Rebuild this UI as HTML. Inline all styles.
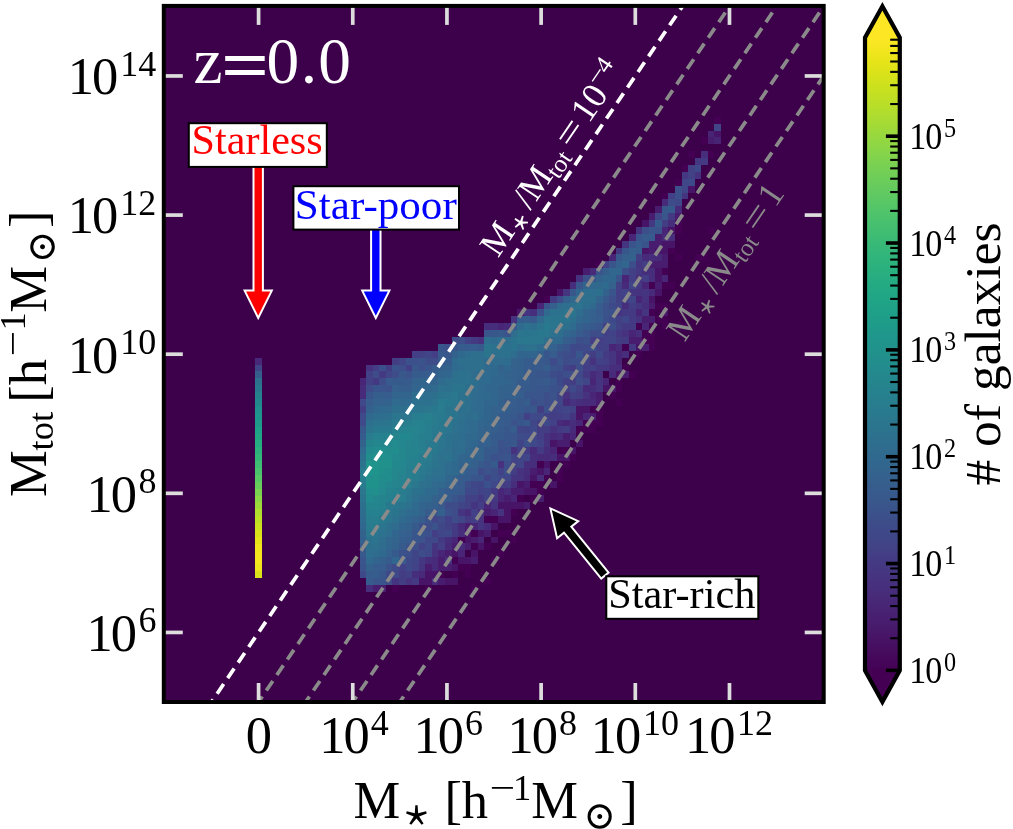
<!DOCTYPE html>
<html lang="en"><head><meta charset="utf-8"><title>Stellar mass vs total mass, z=0.0</title>
<style>html,body{margin:0;padding:0;background:#fff}svg{display:block}text{font-family:'Liberation Serif', 'DejaVu Serif', serif}</style></head><body>
<svg width="1013" height="829" viewBox="0 0 1013 829">
<defs>
<clipPath id="axclip"><rect x="163.80" y="5.90" width="659.90" height="696.10"/></clipPath>
<clipPath id="lnclip"><rect x="163.80" y="10.60" width="659.90" height="691.40"/></clipPath>
<linearGradient id="vir" x1="0" y1="1" x2="0" y2="0"><stop offset="0.000" stop-color="#440154"/><stop offset="0.025" stop-color="#460a5d"/><stop offset="0.050" stop-color="#471365"/><stop offset="0.075" stop-color="#481c6e"/><stop offset="0.100" stop-color="#482475"/><stop offset="0.125" stop-color="#472d7b"/><stop offset="0.150" stop-color="#463480"/><stop offset="0.175" stop-color="#443b84"/><stop offset="0.200" stop-color="#414487"/><stop offset="0.225" stop-color="#3e4a89"/><stop offset="0.250" stop-color="#3b528b"/><stop offset="0.275" stop-color="#38598c"/><stop offset="0.300" stop-color="#355f8d"/><stop offset="0.325" stop-color="#31668e"/><stop offset="0.350" stop-color="#2f6c8e"/><stop offset="0.375" stop-color="#2c728e"/><stop offset="0.400" stop-color="#2a788e"/><stop offset="0.425" stop-color="#277e8e"/><stop offset="0.450" stop-color="#25848e"/><stop offset="0.475" stop-color="#238a8d"/><stop offset="0.500" stop-color="#21918c"/><stop offset="0.525" stop-color="#1f968b"/><stop offset="0.550" stop-color="#1e9c89"/><stop offset="0.575" stop-color="#1fa287"/><stop offset="0.600" stop-color="#22a884"/><stop offset="0.625" stop-color="#28ae80"/><stop offset="0.650" stop-color="#2fb47c"/><stop offset="0.675" stop-color="#38b977"/><stop offset="0.700" stop-color="#44bf70"/><stop offset="0.725" stop-color="#50c46a"/><stop offset="0.750" stop-color="#5ec962"/><stop offset="0.775" stop-color="#6ccd5a"/><stop offset="0.800" stop-color="#7ad151"/><stop offset="0.825" stop-color="#8bd646"/><stop offset="0.850" stop-color="#9bd93c"/><stop offset="0.875" stop-color="#addc30"/><stop offset="0.900" stop-color="#bddf26"/><stop offset="0.925" stop-color="#cde11d"/><stop offset="0.950" stop-color="#dfe318"/><stop offset="0.975" stop-color="#efe51c"/><stop offset="1.000" stop-color="#fde725"/></linearGradient>
</defs>
<rect x="0" y="0" width="1013" height="829" fill="#ffffff"/>
<rect x="163.80" y="5.90" width="659.90" height="696.10" fill="#3d014b"/>
<g clip-path="url(#axclip)" shape-rendering="crispEdges">
<rect x="255.40" y="357.70" width="6.50" height="6.94" fill="#482878"/>
<rect x="255.40" y="364.59" width="6.50" height="6.94" fill="#404588"/>
<rect x="255.40" y="371.48" width="6.50" height="6.94" fill="#355e8d"/>
<rect x="255.40" y="378.37" width="6.50" height="6.94" fill="#2d718e"/>
<rect x="255.40" y="385.26" width="6.50" height="6.94" fill="#2a788e"/>
<rect x="255.40" y="392.15" width="6.50" height="6.94" fill="#26818e"/>
<rect x="255.40" y="399.04" width="6.50" height="6.94" fill="#23888e"/>
<rect x="255.40" y="405.93" width="6.50" height="6.94" fill="#218f8d"/>
<rect x="255.40" y="412.82" width="6.50" height="6.94" fill="#1f948c"/>
<rect x="255.40" y="419.72" width="6.50" height="6.94" fill="#1f9a8a"/>
<rect x="255.40" y="426.61" width="6.50" height="6.94" fill="#1fa088"/>
<rect x="255.40" y="433.50" width="6.50" height="6.94" fill="#21a585"/>
<rect x="255.40" y="440.39" width="6.50" height="6.94" fill="#25ac82"/>
<rect x="255.40" y="447.28" width="6.50" height="6.94" fill="#2cb17e"/>
<rect x="255.40" y="454.17" width="6.50" height="6.94" fill="#34b679"/>
<rect x="255.40" y="461.06" width="6.50" height="6.94" fill="#3fbc73"/>
<rect x="255.40" y="467.95" width="6.50" height="6.94" fill="#4ac16d"/>
<rect x="255.40" y="474.84" width="6.50" height="6.94" fill="#58c765"/>
<rect x="255.40" y="481.73" width="6.50" height="6.94" fill="#67cc5c"/>
<rect x="255.40" y="488.62" width="6.50" height="6.94" fill="#7ad151"/>
<rect x="255.40" y="495.51" width="6.50" height="6.94" fill="#8bd646"/>
<rect x="255.40" y="502.40" width="6.50" height="6.94" fill="#9dd93b"/>
<rect x="255.40" y="509.29" width="6.50" height="6.94" fill="#b0dd2f"/>
<rect x="255.40" y="516.18" width="6.50" height="6.94" fill="#bddf26"/>
<rect x="255.40" y="523.08" width="6.50" height="6.94" fill="#cae11f"/>
<rect x="255.40" y="529.97" width="6.50" height="6.94" fill="#dae319"/>
<rect x="255.40" y="536.86" width="6.50" height="6.94" fill="#e7e419"/>
<rect x="255.40" y="543.75" width="6.50" height="6.94" fill="#f1e51d"/>
<rect x="255.40" y="550.64" width="6.50" height="6.94" fill="#f4e61e"/>
<rect x="255.40" y="557.53" width="6.50" height="6.94" fill="#f6e620"/>
<rect x="255.40" y="564.42" width="6.50" height="6.94" fill="#efe51c"/>
<rect x="255.40" y="571.31" width="6.50" height="6.94" fill="#dae319"/>
<rect x="359.60" y="378.28" width="6.62" height="6.93" fill="#482576"/>
<rect x="359.60" y="385.16" width="6.62" height="6.93" fill="#472a7a"/>
<rect x="359.60" y="392.04" width="6.62" height="6.93" fill="#472a7a"/>
<rect x="359.60" y="398.92" width="6.62" height="6.93" fill="#3f4889"/>
<rect x="359.60" y="405.80" width="6.62" height="6.93" fill="#433d84"/>
<rect x="359.60" y="412.68" width="6.62" height="6.93" fill="#3e4a89"/>
<rect x="359.60" y="419.56" width="6.62" height="6.93" fill="#3e4a89"/>
<rect x="359.60" y="426.44" width="6.62" height="6.93" fill="#38588c"/>
<rect x="359.60" y="433.32" width="6.62" height="6.93" fill="#365c8d"/>
<rect x="359.60" y="440.20" width="6.62" height="6.93" fill="#33638d"/>
<rect x="359.60" y="447.08" width="6.62" height="6.93" fill="#306a8e"/>
<rect x="359.60" y="453.96" width="6.62" height="6.93" fill="#2e6f8e"/>
<rect x="359.60" y="460.84" width="6.62" height="6.93" fill="#2c738e"/>
<rect x="359.60" y="467.72" width="6.62" height="6.93" fill="#297b8e"/>
<rect x="359.60" y="474.60" width="6.62" height="6.93" fill="#277e8e"/>
<rect x="359.60" y="481.48" width="6.62" height="6.93" fill="#297b8e"/>
<rect x="359.60" y="488.36" width="6.62" height="6.93" fill="#2a778e"/>
<rect x="359.60" y="495.24" width="6.62" height="6.93" fill="#2c738e"/>
<rect x="359.60" y="502.12" width="6.62" height="6.93" fill="#2d708e"/>
<rect x="359.60" y="509.00" width="6.62" height="6.93" fill="#2e6d8e"/>
<rect x="359.60" y="515.88" width="6.62" height="6.93" fill="#2f6b8e"/>
<rect x="359.60" y="522.76" width="6.62" height="6.93" fill="#31678e"/>
<rect x="359.60" y="529.64" width="6.62" height="6.93" fill="#33638d"/>
<rect x="359.60" y="536.52" width="6.62" height="6.93" fill="#34608d"/>
<rect x="359.60" y="543.40" width="6.62" height="6.93" fill="#375b8d"/>
<rect x="359.60" y="550.28" width="6.62" height="6.93" fill="#38598c"/>
<rect x="359.60" y="557.16" width="6.62" height="6.93" fill="#39558c"/>
<rect x="359.60" y="564.04" width="6.62" height="6.93" fill="#3a538b"/>
<rect x="359.60" y="570.92" width="6.62" height="6.93" fill="#3f4889"/>
<rect x="366.17" y="364.52" width="6.62" height="6.93" fill="#46327e"/>
<rect x="366.17" y="371.40" width="6.62" height="6.93" fill="#424086"/>
<rect x="366.17" y="378.28" width="6.62" height="6.93" fill="#424186"/>
<rect x="366.17" y="385.16" width="6.62" height="6.93" fill="#3e4c8a"/>
<rect x="366.17" y="392.04" width="6.62" height="6.93" fill="#39568c"/>
<rect x="366.17" y="398.92" width="6.62" height="6.93" fill="#365d8d"/>
<rect x="366.17" y="405.80" width="6.62" height="6.93" fill="#34608d"/>
<rect x="366.17" y="412.68" width="6.62" height="6.93" fill="#31688e"/>
<rect x="366.17" y="419.56" width="6.62" height="6.93" fill="#2d708e"/>
<rect x="366.17" y="426.44" width="6.62" height="6.93" fill="#2c738e"/>
<rect x="366.17" y="433.32" width="6.62" height="6.93" fill="#297b8e"/>
<rect x="366.17" y="440.20" width="6.62" height="6.93" fill="#25838e"/>
<rect x="366.17" y="447.08" width="6.62" height="6.93" fill="#23898e"/>
<rect x="366.17" y="453.96" width="6.62" height="6.93" fill="#218e8d"/>
<rect x="366.17" y="460.84" width="6.62" height="6.93" fill="#1f958b"/>
<rect x="366.17" y="467.72" width="6.62" height="6.93" fill="#1f948c"/>
<rect x="366.17" y="474.60" width="6.62" height="6.93" fill="#21908d"/>
<rect x="366.17" y="481.48" width="6.62" height="6.93" fill="#20928c"/>
<rect x="366.17" y="488.36" width="6.62" height="6.93" fill="#228d8d"/>
<rect x="366.17" y="495.24" width="6.62" height="6.93" fill="#228b8d"/>
<rect x="366.17" y="502.12" width="6.62" height="6.93" fill="#25858e"/>
<rect x="366.17" y="509.00" width="6.62" height="6.93" fill="#26818e"/>
<rect x="366.17" y="515.88" width="6.62" height="6.93" fill="#287d8e"/>
<rect x="366.17" y="522.76" width="6.62" height="6.93" fill="#297b8e"/>
<rect x="366.17" y="529.64" width="6.62" height="6.93" fill="#2a778e"/>
<rect x="366.17" y="536.52" width="6.62" height="6.93" fill="#2c728e"/>
<rect x="366.17" y="543.40" width="6.62" height="6.93" fill="#2d708e"/>
<rect x="366.17" y="550.28" width="6.62" height="6.93" fill="#2e6e8e"/>
<rect x="366.17" y="557.16" width="6.62" height="6.93" fill="#306a8e"/>
<rect x="366.17" y="564.04" width="6.62" height="6.93" fill="#33628d"/>
<rect x="366.17" y="570.92" width="6.62" height="6.93" fill="#375b8d"/>
<rect x="366.17" y="577.80" width="6.62" height="6.93" fill="#375b8d"/>
<rect x="366.17" y="584.68" width="6.62" height="6.93" fill="#472e7c"/>
<rect x="372.74" y="364.52" width="6.62" height="6.93" fill="#433e85"/>
<rect x="372.74" y="371.40" width="6.62" height="6.93" fill="#3e4c8a"/>
<rect x="372.74" y="378.28" width="6.62" height="6.93" fill="#453882"/>
<rect x="372.74" y="385.16" width="6.62" height="6.93" fill="#39568c"/>
<rect x="372.74" y="392.04" width="6.62" height="6.93" fill="#355e8d"/>
<rect x="372.74" y="398.92" width="6.62" height="6.93" fill="#33638d"/>
<rect x="372.74" y="405.80" width="6.62" height="6.93" fill="#31678e"/>
<rect x="372.74" y="412.68" width="6.62" height="6.93" fill="#2e6d8e"/>
<rect x="372.74" y="419.56" width="6.62" height="6.93" fill="#2c738e"/>
<rect x="372.74" y="426.44" width="6.62" height="6.93" fill="#29798e"/>
<rect x="372.74" y="433.32" width="6.62" height="6.93" fill="#26828e"/>
<rect x="372.74" y="440.20" width="6.62" height="6.93" fill="#24878e"/>
<rect x="372.74" y="447.08" width="6.62" height="6.93" fill="#228b8d"/>
<rect x="372.74" y="453.96" width="6.62" height="6.93" fill="#21918c"/>
<rect x="372.74" y="460.84" width="6.62" height="6.93" fill="#20938c"/>
<rect x="372.74" y="467.72" width="6.62" height="6.93" fill="#20938c"/>
<rect x="372.74" y="474.60" width="6.62" height="6.93" fill="#21918c"/>
<rect x="372.74" y="481.48" width="6.62" height="6.93" fill="#20928c"/>
<rect x="372.74" y="488.36" width="6.62" height="6.93" fill="#21908d"/>
<rect x="372.74" y="495.24" width="6.62" height="6.93" fill="#24878e"/>
<rect x="372.74" y="502.12" width="6.62" height="6.93" fill="#25858e"/>
<rect x="372.74" y="509.00" width="6.62" height="6.93" fill="#26828e"/>
<rect x="372.74" y="515.88" width="6.62" height="6.93" fill="#277f8e"/>
<rect x="372.74" y="522.76" width="6.62" height="6.93" fill="#297b8e"/>
<rect x="372.74" y="529.64" width="6.62" height="6.93" fill="#2b758e"/>
<rect x="372.74" y="536.52" width="6.62" height="6.93" fill="#2c738e"/>
<rect x="372.74" y="543.40" width="6.62" height="6.93" fill="#2d718e"/>
<rect x="372.74" y="550.28" width="6.62" height="6.93" fill="#2f6c8e"/>
<rect x="372.74" y="557.16" width="6.62" height="6.93" fill="#32658e"/>
<rect x="372.74" y="564.04" width="6.62" height="6.93" fill="#365d8d"/>
<rect x="372.74" y="570.92" width="6.62" height="6.93" fill="#355e8d"/>
<rect x="372.74" y="577.80" width="6.62" height="6.93" fill="#3a548c"/>
<rect x="372.74" y="584.68" width="6.62" height="6.93" fill="#481d6f"/>
<rect x="379.31" y="364.52" width="6.62" height="6.93" fill="#3c4f8a"/>
<rect x="379.31" y="371.40" width="6.62" height="6.93" fill="#443a83"/>
<rect x="379.31" y="378.28" width="6.62" height="6.93" fill="#3e4c8a"/>
<rect x="379.31" y="385.16" width="6.62" height="6.93" fill="#3a548c"/>
<rect x="379.31" y="392.04" width="6.62" height="6.93" fill="#355e8d"/>
<rect x="379.31" y="398.92" width="6.62" height="6.93" fill="#34618d"/>
<rect x="379.31" y="405.80" width="6.62" height="6.93" fill="#30698e"/>
<rect x="379.31" y="412.68" width="6.62" height="6.93" fill="#2e6d8e"/>
<rect x="379.31" y="419.56" width="6.62" height="6.93" fill="#2b748e"/>
<rect x="379.31" y="426.44" width="6.62" height="6.93" fill="#29798e"/>
<rect x="379.31" y="433.32" width="6.62" height="6.93" fill="#26818e"/>
<rect x="379.31" y="440.20" width="6.62" height="6.93" fill="#24868e"/>
<rect x="379.31" y="447.08" width="6.62" height="6.93" fill="#218f8d"/>
<rect x="379.31" y="453.96" width="6.62" height="6.93" fill="#21908d"/>
<rect x="379.31" y="460.84" width="6.62" height="6.93" fill="#21918c"/>
<rect x="379.31" y="467.72" width="6.62" height="6.93" fill="#21908d"/>
<rect x="379.31" y="474.60" width="6.62" height="6.93" fill="#228c8d"/>
<rect x="379.31" y="481.48" width="6.62" height="6.93" fill="#228b8d"/>
<rect x="379.31" y="488.36" width="6.62" height="6.93" fill="#23898e"/>
<rect x="379.31" y="495.24" width="6.62" height="6.93" fill="#25838e"/>
<rect x="379.31" y="502.12" width="6.62" height="6.93" fill="#25838e"/>
<rect x="379.31" y="509.00" width="6.62" height="6.93" fill="#277e8e"/>
<rect x="379.31" y="515.88" width="6.62" height="6.93" fill="#29798e"/>
<rect x="379.31" y="522.76" width="6.62" height="6.93" fill="#2b758e"/>
<rect x="379.31" y="529.64" width="6.62" height="6.93" fill="#2c728e"/>
<rect x="379.31" y="536.52" width="6.62" height="6.93" fill="#2e6d8e"/>
<rect x="379.31" y="543.40" width="6.62" height="6.93" fill="#2f6c8e"/>
<rect x="379.31" y="550.28" width="6.62" height="6.93" fill="#30698e"/>
<rect x="379.31" y="557.16" width="6.62" height="6.93" fill="#34608d"/>
<rect x="379.31" y="564.04" width="6.62" height="6.93" fill="#365d8d"/>
<rect x="379.31" y="570.92" width="6.62" height="6.93" fill="#38588c"/>
<rect x="379.31" y="577.80" width="6.62" height="6.93" fill="#3a548c"/>
<rect x="379.31" y="584.68" width="6.62" height="6.93" fill="#481d6f"/>
<rect x="385.88" y="364.52" width="6.62" height="6.93" fill="#433d84"/>
<rect x="385.88" y="371.40" width="6.62" height="6.93" fill="#404688"/>
<rect x="385.88" y="378.28" width="6.62" height="6.93" fill="#375b8d"/>
<rect x="385.88" y="385.16" width="6.62" height="6.93" fill="#3b528b"/>
<rect x="385.88" y="392.04" width="6.62" height="6.93" fill="#365d8d"/>
<rect x="385.88" y="398.92" width="6.62" height="6.93" fill="#33628d"/>
<rect x="385.88" y="405.80" width="6.62" height="6.93" fill="#31688e"/>
<rect x="385.88" y="412.68" width="6.62" height="6.93" fill="#2d708e"/>
<rect x="385.88" y="419.56" width="6.62" height="6.93" fill="#2b748e"/>
<rect x="385.88" y="426.44" width="6.62" height="6.93" fill="#29798e"/>
<rect x="385.88" y="433.32" width="6.62" height="6.93" fill="#25838e"/>
<rect x="385.88" y="440.20" width="6.62" height="6.93" fill="#24878e"/>
<rect x="385.88" y="447.08" width="6.62" height="6.93" fill="#228c8d"/>
<rect x="385.88" y="453.96" width="6.62" height="6.93" fill="#218f8d"/>
<rect x="385.88" y="460.84" width="6.62" height="6.93" fill="#21918c"/>
<rect x="385.88" y="467.72" width="6.62" height="6.93" fill="#228d8d"/>
<rect x="385.88" y="474.60" width="6.62" height="6.93" fill="#228d8d"/>
<rect x="385.88" y="481.48" width="6.62" height="6.93" fill="#24868e"/>
<rect x="385.88" y="488.36" width="6.62" height="6.93" fill="#26828e"/>
<rect x="385.88" y="495.24" width="6.62" height="6.93" fill="#26818e"/>
<rect x="385.88" y="502.12" width="6.62" height="6.93" fill="#29798e"/>
<rect x="385.88" y="509.00" width="6.62" height="6.93" fill="#2a778e"/>
<rect x="385.88" y="515.88" width="6.62" height="6.93" fill="#2b758e"/>
<rect x="385.88" y="522.76" width="6.62" height="6.93" fill="#2d708e"/>
<rect x="385.88" y="529.64" width="6.62" height="6.93" fill="#2e6e8e"/>
<rect x="385.88" y="536.52" width="6.62" height="6.93" fill="#31678e"/>
<rect x="385.88" y="543.40" width="6.62" height="6.93" fill="#31678e"/>
<rect x="385.88" y="550.28" width="6.62" height="6.93" fill="#34618d"/>
<rect x="385.88" y="557.16" width="6.62" height="6.93" fill="#365c8d"/>
<rect x="385.88" y="564.04" width="6.62" height="6.93" fill="#3b528b"/>
<rect x="385.88" y="570.92" width="6.62" height="6.93" fill="#3f4889"/>
<rect x="385.88" y="577.80" width="6.62" height="6.93" fill="#3e4c8a"/>
<rect x="392.45" y="357.64" width="6.62" height="6.93" fill="#433d84"/>
<rect x="392.45" y="364.52" width="6.62" height="6.93" fill="#3a538b"/>
<rect x="392.45" y="371.40" width="6.62" height="6.93" fill="#3e4c8a"/>
<rect x="392.45" y="378.28" width="6.62" height="6.93" fill="#375a8c"/>
<rect x="392.45" y="385.16" width="6.62" height="6.93" fill="#34618d"/>
<rect x="392.45" y="392.04" width="6.62" height="6.93" fill="#32658e"/>
<rect x="392.45" y="398.92" width="6.62" height="6.93" fill="#2f6b8e"/>
<rect x="392.45" y="405.80" width="6.62" height="6.93" fill="#2d708e"/>
<rect x="392.45" y="412.68" width="6.62" height="6.93" fill="#2b758e"/>
<rect x="392.45" y="419.56" width="6.62" height="6.93" fill="#297a8e"/>
<rect x="392.45" y="426.44" width="6.62" height="6.93" fill="#27808e"/>
<rect x="392.45" y="433.32" width="6.62" height="6.93" fill="#25848e"/>
<rect x="392.45" y="440.20" width="6.62" height="6.93" fill="#228b8d"/>
<rect x="392.45" y="447.08" width="6.62" height="6.93" fill="#218e8d"/>
<rect x="392.45" y="453.96" width="6.62" height="6.93" fill="#23898e"/>
<rect x="392.45" y="460.84" width="6.62" height="6.93" fill="#23888e"/>
<rect x="392.45" y="467.72" width="6.62" height="6.93" fill="#24878e"/>
<rect x="392.45" y="474.60" width="6.62" height="6.93" fill="#24878e"/>
<rect x="392.45" y="481.48" width="6.62" height="6.93" fill="#25848e"/>
<rect x="392.45" y="488.36" width="6.62" height="6.93" fill="#26818e"/>
<rect x="392.45" y="495.24" width="6.62" height="6.93" fill="#277e8e"/>
<rect x="392.45" y="502.12" width="6.62" height="6.93" fill="#2a768e"/>
<rect x="392.45" y="509.00" width="6.62" height="6.93" fill="#2b748e"/>
<rect x="392.45" y="515.88" width="6.62" height="6.93" fill="#2c718e"/>
<rect x="392.45" y="522.76" width="6.62" height="6.93" fill="#2f6c8e"/>
<rect x="392.45" y="529.64" width="6.62" height="6.93" fill="#31678e"/>
<rect x="392.45" y="536.52" width="6.62" height="6.93" fill="#32648e"/>
<rect x="392.45" y="543.40" width="6.62" height="6.93" fill="#33628d"/>
<rect x="392.45" y="550.28" width="6.62" height="6.93" fill="#375a8c"/>
<rect x="392.45" y="557.16" width="6.62" height="6.93" fill="#31668e"/>
<rect x="392.45" y="564.04" width="6.62" height="6.93" fill="#3e4a89"/>
<rect x="392.45" y="570.92" width="6.62" height="6.93" fill="#3f4889"/>
<rect x="392.45" y="577.80" width="6.62" height="6.93" fill="#453581"/>
<rect x="392.45" y="584.68" width="6.62" height="6.93" fill="#440154"/>
<rect x="399.02" y="357.64" width="6.62" height="6.93" fill="#404588"/>
<rect x="399.02" y="364.52" width="6.62" height="6.93" fill="#3d4e8a"/>
<rect x="399.02" y="371.40" width="6.62" height="6.93" fill="#38588c"/>
<rect x="399.02" y="378.28" width="6.62" height="6.93" fill="#375a8c"/>
<rect x="399.02" y="385.16" width="6.62" height="6.93" fill="#355e8d"/>
<rect x="399.02" y="392.04" width="6.62" height="6.93" fill="#32658e"/>
<rect x="399.02" y="398.92" width="6.62" height="6.93" fill="#31688e"/>
<rect x="399.02" y="405.80" width="6.62" height="6.93" fill="#2d708e"/>
<rect x="399.02" y="412.68" width="6.62" height="6.93" fill="#2b758e"/>
<rect x="399.02" y="419.56" width="6.62" height="6.93" fill="#297b8e"/>
<rect x="399.02" y="426.44" width="6.62" height="6.93" fill="#26828e"/>
<rect x="399.02" y="433.32" width="6.62" height="6.93" fill="#23888e"/>
<rect x="399.02" y="440.20" width="6.62" height="6.93" fill="#24868e"/>
<rect x="399.02" y="447.08" width="6.62" height="6.93" fill="#24878e"/>
<rect x="399.02" y="453.96" width="6.62" height="6.93" fill="#24878e"/>
<rect x="399.02" y="460.84" width="6.62" height="6.93" fill="#24868e"/>
<rect x="399.02" y="467.72" width="6.62" height="6.93" fill="#25848e"/>
<rect x="399.02" y="474.60" width="6.62" height="6.93" fill="#26828e"/>
<rect x="399.02" y="481.48" width="6.62" height="6.93" fill="#26828e"/>
<rect x="399.02" y="488.36" width="6.62" height="6.93" fill="#297b8e"/>
<rect x="399.02" y="495.24" width="6.62" height="6.93" fill="#287d8e"/>
<rect x="399.02" y="502.12" width="6.62" height="6.93" fill="#2b748e"/>
<rect x="399.02" y="509.00" width="6.62" height="6.93" fill="#2e6f8e"/>
<rect x="399.02" y="515.88" width="6.62" height="6.93" fill="#306a8e"/>
<rect x="399.02" y="522.76" width="6.62" height="6.93" fill="#32658e"/>
<rect x="399.02" y="529.64" width="6.62" height="6.93" fill="#34618d"/>
<rect x="399.02" y="536.52" width="6.62" height="6.93" fill="#355e8d"/>
<rect x="399.02" y="543.40" width="6.62" height="6.93" fill="#375a8c"/>
<rect x="399.02" y="550.28" width="6.62" height="6.93" fill="#3b518b"/>
<rect x="399.02" y="557.16" width="6.62" height="6.93" fill="#38598c"/>
<rect x="399.02" y="564.04" width="6.62" height="6.93" fill="#424086"/>
<rect x="399.02" y="570.92" width="6.62" height="6.93" fill="#433d84"/>
<rect x="399.02" y="577.80" width="6.62" height="6.93" fill="#433d84"/>
<rect x="405.59" y="357.64" width="6.62" height="6.93" fill="#3b518b"/>
<rect x="405.59" y="364.52" width="6.62" height="6.93" fill="#424086"/>
<rect x="405.59" y="371.40" width="6.62" height="6.93" fill="#3b528b"/>
<rect x="405.59" y="378.28" width="6.62" height="6.93" fill="#375b8d"/>
<rect x="405.59" y="385.16" width="6.62" height="6.93" fill="#355e8d"/>
<rect x="405.59" y="392.04" width="6.62" height="6.93" fill="#32648e"/>
<rect x="405.59" y="398.92" width="6.62" height="6.93" fill="#2f6b8e"/>
<rect x="405.59" y="405.80" width="6.62" height="6.93" fill="#2c728e"/>
<rect x="405.59" y="412.68" width="6.62" height="6.93" fill="#2a778e"/>
<rect x="405.59" y="419.56" width="6.62" height="6.93" fill="#277e8e"/>
<rect x="405.59" y="426.44" width="6.62" height="6.93" fill="#25838e"/>
<rect x="405.59" y="433.32" width="6.62" height="6.93" fill="#24868e"/>
<rect x="405.59" y="440.20" width="6.62" height="6.93" fill="#25848e"/>
<rect x="405.59" y="447.08" width="6.62" height="6.93" fill="#25838e"/>
<rect x="405.59" y="453.96" width="6.62" height="6.93" fill="#25838e"/>
<rect x="405.59" y="460.84" width="6.62" height="6.93" fill="#27808e"/>
<rect x="405.59" y="467.72" width="6.62" height="6.93" fill="#277e8e"/>
<rect x="405.59" y="474.60" width="6.62" height="6.93" fill="#277e8e"/>
<rect x="405.59" y="481.48" width="6.62" height="6.93" fill="#287d8e"/>
<rect x="405.59" y="488.36" width="6.62" height="6.93" fill="#2a788e"/>
<rect x="405.59" y="495.24" width="6.62" height="6.93" fill="#2b758e"/>
<rect x="405.59" y="502.12" width="6.62" height="6.93" fill="#2d718e"/>
<rect x="405.59" y="509.00" width="6.62" height="6.93" fill="#306a8e"/>
<rect x="405.59" y="515.88" width="6.62" height="6.93" fill="#31668e"/>
<rect x="405.59" y="522.76" width="6.62" height="6.93" fill="#33638d"/>
<rect x="405.59" y="529.64" width="6.62" height="6.93" fill="#355f8d"/>
<rect x="405.59" y="536.52" width="6.62" height="6.93" fill="#375b8d"/>
<rect x="405.59" y="543.40" width="6.62" height="6.93" fill="#3a538b"/>
<rect x="405.59" y="550.28" width="6.62" height="6.93" fill="#3c4f8a"/>
<rect x="405.59" y="557.16" width="6.62" height="6.93" fill="#3e4989"/>
<rect x="405.59" y="564.04" width="6.62" height="6.93" fill="#3e4989"/>
<rect x="405.59" y="570.92" width="6.62" height="6.93" fill="#424186"/>
<rect x="405.59" y="577.80" width="6.62" height="6.93" fill="#46327e"/>
<rect x="412.16" y="350.76" width="6.62" height="6.93" fill="#433e85"/>
<rect x="412.16" y="357.64" width="6.62" height="6.93" fill="#3c508b"/>
<rect x="412.16" y="364.52" width="6.62" height="6.93" fill="#38588c"/>
<rect x="412.16" y="371.40" width="6.62" height="6.93" fill="#365c8d"/>
<rect x="412.16" y="378.28" width="6.62" height="6.93" fill="#33638d"/>
<rect x="412.16" y="385.16" width="6.62" height="6.93" fill="#32658e"/>
<rect x="412.16" y="392.04" width="6.62" height="6.93" fill="#2e6d8e"/>
<rect x="412.16" y="398.92" width="6.62" height="6.93" fill="#2d718e"/>
<rect x="412.16" y="405.80" width="6.62" height="6.93" fill="#2a768e"/>
<rect x="412.16" y="412.68" width="6.62" height="6.93" fill="#287d8e"/>
<rect x="412.16" y="419.56" width="6.62" height="6.93" fill="#26828e"/>
<rect x="412.16" y="426.44" width="6.62" height="6.93" fill="#25848e"/>
<rect x="412.16" y="433.32" width="6.62" height="6.93" fill="#26828e"/>
<rect x="412.16" y="440.20" width="6.62" height="6.93" fill="#26828e"/>
<rect x="412.16" y="447.08" width="6.62" height="6.93" fill="#25838e"/>
<rect x="412.16" y="453.96" width="6.62" height="6.93" fill="#26818e"/>
<rect x="412.16" y="460.84" width="6.62" height="6.93" fill="#26818e"/>
<rect x="412.16" y="467.72" width="6.62" height="6.93" fill="#287d8e"/>
<rect x="412.16" y="474.60" width="6.62" height="6.93" fill="#287c8e"/>
<rect x="412.16" y="481.48" width="6.62" height="6.93" fill="#2a778e"/>
<rect x="412.16" y="488.36" width="6.62" height="6.93" fill="#2c718e"/>
<rect x="412.16" y="495.24" width="6.62" height="6.93" fill="#2e6e8e"/>
<rect x="412.16" y="502.12" width="6.62" height="6.93" fill="#2f6b8e"/>
<rect x="412.16" y="509.00" width="6.62" height="6.93" fill="#31688e"/>
<rect x="412.16" y="515.88" width="6.62" height="6.93" fill="#34618d"/>
<rect x="412.16" y="522.76" width="6.62" height="6.93" fill="#375a8c"/>
<rect x="412.16" y="529.64" width="6.62" height="6.93" fill="#39568c"/>
<rect x="412.16" y="536.52" width="6.62" height="6.93" fill="#3a548c"/>
<rect x="412.16" y="543.40" width="6.62" height="6.93" fill="#3c4f8a"/>
<rect x="412.16" y="550.28" width="6.62" height="6.93" fill="#404588"/>
<rect x="412.16" y="557.16" width="6.62" height="6.93" fill="#404588"/>
<rect x="412.16" y="564.04" width="6.62" height="6.93" fill="#414287"/>
<rect x="412.16" y="570.92" width="6.62" height="6.93" fill="#472e7c"/>
<rect x="412.16" y="577.80" width="6.62" height="6.93" fill="#443a83"/>
<rect x="418.73" y="350.76" width="6.62" height="6.93" fill="#424186"/>
<rect x="418.73" y="357.64" width="6.62" height="6.93" fill="#3a538b"/>
<rect x="418.73" y="364.52" width="6.62" height="6.93" fill="#3c508b"/>
<rect x="418.73" y="371.40" width="6.62" height="6.93" fill="#365c8d"/>
<rect x="418.73" y="378.28" width="6.62" height="6.93" fill="#32658e"/>
<rect x="418.73" y="385.16" width="6.62" height="6.93" fill="#31678e"/>
<rect x="418.73" y="392.04" width="6.62" height="6.93" fill="#2e6e8e"/>
<rect x="418.73" y="398.92" width="6.62" height="6.93" fill="#2c728e"/>
<rect x="418.73" y="405.80" width="6.62" height="6.93" fill="#2b758e"/>
<rect x="418.73" y="412.68" width="6.62" height="6.93" fill="#277e8e"/>
<rect x="418.73" y="419.56" width="6.62" height="6.93" fill="#26828e"/>
<rect x="418.73" y="426.44" width="6.62" height="6.93" fill="#26828e"/>
<rect x="418.73" y="433.32" width="6.62" height="6.93" fill="#277f8e"/>
<rect x="418.73" y="440.20" width="6.62" height="6.93" fill="#287d8e"/>
<rect x="418.73" y="447.08" width="6.62" height="6.93" fill="#27808e"/>
<rect x="418.73" y="453.96" width="6.62" height="6.93" fill="#287c8e"/>
<rect x="418.73" y="460.84" width="6.62" height="6.93" fill="#287c8e"/>
<rect x="418.73" y="467.72" width="6.62" height="6.93" fill="#297a8e"/>
<rect x="418.73" y="474.60" width="6.62" height="6.93" fill="#2a788e"/>
<rect x="418.73" y="481.48" width="6.62" height="6.93" fill="#2d718e"/>
<rect x="418.73" y="488.36" width="6.62" height="6.93" fill="#2d708e"/>
<rect x="418.73" y="495.24" width="6.62" height="6.93" fill="#306a8e"/>
<rect x="418.73" y="502.12" width="6.62" height="6.93" fill="#32648e"/>
<rect x="418.73" y="509.00" width="6.62" height="6.93" fill="#32648e"/>
<rect x="418.73" y="515.88" width="6.62" height="6.93" fill="#365d8d"/>
<rect x="418.73" y="522.76" width="6.62" height="6.93" fill="#3c4f8a"/>
<rect x="418.73" y="529.64" width="6.62" height="6.93" fill="#3a548c"/>
<rect x="418.73" y="536.52" width="6.62" height="6.93" fill="#3b528b"/>
<rect x="418.73" y="543.40" width="6.62" height="6.93" fill="#414287"/>
<rect x="418.73" y="550.28" width="6.62" height="6.93" fill="#3d4d8a"/>
<rect x="418.73" y="557.16" width="6.62" height="6.93" fill="#453882"/>
<rect x="418.73" y="564.04" width="6.62" height="6.93" fill="#453581"/>
<rect x="418.73" y="570.92" width="6.62" height="6.93" fill="#472a7a"/>
<rect x="418.73" y="577.80" width="6.62" height="6.93" fill="#481467"/>
<rect x="425.30" y="350.76" width="6.62" height="6.93" fill="#404588"/>
<rect x="425.30" y="357.64" width="6.62" height="6.93" fill="#3e4c8a"/>
<rect x="425.30" y="364.52" width="6.62" height="6.93" fill="#39568c"/>
<rect x="425.30" y="371.40" width="6.62" height="6.93" fill="#365d8d"/>
<rect x="425.30" y="378.28" width="6.62" height="6.93" fill="#32648e"/>
<rect x="425.30" y="385.16" width="6.62" height="6.93" fill="#31688e"/>
<rect x="425.30" y="392.04" width="6.62" height="6.93" fill="#2e6e8e"/>
<rect x="425.30" y="398.92" width="6.62" height="6.93" fill="#2c728e"/>
<rect x="425.30" y="405.80" width="6.62" height="6.93" fill="#2a778e"/>
<rect x="425.30" y="412.68" width="6.62" height="6.93" fill="#27808e"/>
<rect x="425.30" y="419.56" width="6.62" height="6.93" fill="#277f8e"/>
<rect x="425.30" y="426.44" width="6.62" height="6.93" fill="#277e8e"/>
<rect x="425.30" y="433.32" width="6.62" height="6.93" fill="#277e8e"/>
<rect x="425.30" y="440.20" width="6.62" height="6.93" fill="#297a8e"/>
<rect x="425.30" y="447.08" width="6.62" height="6.93" fill="#297a8e"/>
<rect x="425.30" y="453.96" width="6.62" height="6.93" fill="#287c8e"/>
<rect x="425.30" y="460.84" width="6.62" height="6.93" fill="#2a788e"/>
<rect x="425.30" y="467.72" width="6.62" height="6.93" fill="#2b758e"/>
<rect x="425.30" y="474.60" width="6.62" height="6.93" fill="#2c718e"/>
<rect x="425.30" y="481.48" width="6.62" height="6.93" fill="#2e6f8e"/>
<rect x="425.30" y="488.36" width="6.62" height="6.93" fill="#30698e"/>
<rect x="425.30" y="495.24" width="6.62" height="6.93" fill="#31688e"/>
<rect x="425.30" y="502.12" width="6.62" height="6.93" fill="#33628d"/>
<rect x="425.30" y="509.00" width="6.62" height="6.93" fill="#375b8d"/>
<rect x="425.30" y="515.88" width="6.62" height="6.93" fill="#3a538b"/>
<rect x="425.30" y="522.76" width="6.62" height="6.93" fill="#3e4c8a"/>
<rect x="425.30" y="529.64" width="6.62" height="6.93" fill="#3c508b"/>
<rect x="425.30" y="536.52" width="6.62" height="6.93" fill="#3f4889"/>
<rect x="425.30" y="543.40" width="6.62" height="6.93" fill="#3e4a89"/>
<rect x="425.30" y="550.28" width="6.62" height="6.93" fill="#3f4889"/>
<rect x="425.30" y="557.16" width="6.62" height="6.93" fill="#472e7c"/>
<rect x="425.30" y="564.04" width="6.62" height="6.93" fill="#481d6f"/>
<rect x="425.30" y="570.92" width="6.62" height="6.93" fill="#481467"/>
<rect x="425.30" y="577.80" width="6.62" height="6.93" fill="#481467"/>
<rect x="425.30" y="584.68" width="6.62" height="6.93" fill="#440154"/>
<rect x="431.87" y="350.76" width="6.62" height="6.93" fill="#433e85"/>
<rect x="431.87" y="357.64" width="6.62" height="6.93" fill="#3e4c8a"/>
<rect x="431.87" y="364.52" width="6.62" height="6.93" fill="#375b8d"/>
<rect x="431.87" y="371.40" width="6.62" height="6.93" fill="#355e8d"/>
<rect x="431.87" y="378.28" width="6.62" height="6.93" fill="#32648e"/>
<rect x="431.87" y="385.16" width="6.62" height="6.93" fill="#306a8e"/>
<rect x="431.87" y="392.04" width="6.62" height="6.93" fill="#2d708e"/>
<rect x="431.87" y="398.92" width="6.62" height="6.93" fill="#2c738e"/>
<rect x="431.87" y="405.80" width="6.62" height="6.93" fill="#29798e"/>
<rect x="431.87" y="412.68" width="6.62" height="6.93" fill="#297b8e"/>
<rect x="431.87" y="419.56" width="6.62" height="6.93" fill="#297b8e"/>
<rect x="431.87" y="426.44" width="6.62" height="6.93" fill="#297a8e"/>
<rect x="431.87" y="433.32" width="6.62" height="6.93" fill="#29798e"/>
<rect x="431.87" y="440.20" width="6.62" height="6.93" fill="#297a8e"/>
<rect x="431.87" y="447.08" width="6.62" height="6.93" fill="#2a788e"/>
<rect x="431.87" y="453.96" width="6.62" height="6.93" fill="#2b758e"/>
<rect x="431.87" y="460.84" width="6.62" height="6.93" fill="#2b748e"/>
<rect x="431.87" y="467.72" width="6.62" height="6.93" fill="#2c728e"/>
<rect x="431.87" y="474.60" width="6.62" height="6.93" fill="#2e6e8e"/>
<rect x="431.87" y="481.48" width="6.62" height="6.93" fill="#306a8e"/>
<rect x="431.87" y="488.36" width="6.62" height="6.93" fill="#30698e"/>
<rect x="431.87" y="495.24" width="6.62" height="6.93" fill="#33628d"/>
<rect x="431.87" y="502.12" width="6.62" height="6.93" fill="#355f8d"/>
<rect x="431.87" y="509.00" width="6.62" height="6.93" fill="#39558c"/>
<rect x="431.87" y="515.88" width="6.62" height="6.93" fill="#404688"/>
<rect x="431.87" y="522.76" width="6.62" height="6.93" fill="#3a538b"/>
<rect x="431.87" y="529.64" width="6.62" height="6.93" fill="#433e85"/>
<rect x="431.87" y="536.52" width="6.62" height="6.93" fill="#3f4889"/>
<rect x="431.87" y="543.40" width="6.62" height="6.93" fill="#453581"/>
<rect x="431.87" y="550.28" width="6.62" height="6.93" fill="#46327e"/>
<rect x="431.87" y="557.16" width="6.62" height="6.93" fill="#472a7a"/>
<rect x="431.87" y="564.04" width="6.62" height="6.93" fill="#472a7a"/>
<rect x="431.87" y="570.92" width="6.62" height="6.93" fill="#481467"/>
<rect x="431.87" y="577.80" width="6.62" height="6.93" fill="#472a7a"/>
<rect x="438.44" y="343.88" width="6.62" height="6.93" fill="#39568c"/>
<rect x="438.44" y="350.76" width="6.62" height="6.93" fill="#38598c"/>
<rect x="438.44" y="357.64" width="6.62" height="6.93" fill="#38588c"/>
<rect x="438.44" y="364.52" width="6.62" height="6.93" fill="#34608d"/>
<rect x="438.44" y="371.40" width="6.62" height="6.93" fill="#32658e"/>
<rect x="438.44" y="378.28" width="6.62" height="6.93" fill="#306a8e"/>
<rect x="438.44" y="385.16" width="6.62" height="6.93" fill="#2d718e"/>
<rect x="438.44" y="392.04" width="6.62" height="6.93" fill="#2b748e"/>
<rect x="438.44" y="398.92" width="6.62" height="6.93" fill="#297b8e"/>
<rect x="438.44" y="405.80" width="6.62" height="6.93" fill="#297b8e"/>
<rect x="438.44" y="412.68" width="6.62" height="6.93" fill="#297a8e"/>
<rect x="438.44" y="419.56" width="6.62" height="6.93" fill="#2a788e"/>
<rect x="438.44" y="426.44" width="6.62" height="6.93" fill="#2a788e"/>
<rect x="438.44" y="433.32" width="6.62" height="6.93" fill="#2a768e"/>
<rect x="438.44" y="440.20" width="6.62" height="6.93" fill="#2b758e"/>
<rect x="438.44" y="447.08" width="6.62" height="6.93" fill="#2c738e"/>
<rect x="438.44" y="453.96" width="6.62" height="6.93" fill="#2d718e"/>
<rect x="438.44" y="460.84" width="6.62" height="6.93" fill="#2c718e"/>
<rect x="438.44" y="467.72" width="6.62" height="6.93" fill="#2d718e"/>
<rect x="438.44" y="474.60" width="6.62" height="6.93" fill="#2e6e8e"/>
<rect x="438.44" y="481.48" width="6.62" height="6.93" fill="#31688e"/>
<rect x="438.44" y="488.36" width="6.62" height="6.93" fill="#34618d"/>
<rect x="438.44" y="495.24" width="6.62" height="6.93" fill="#355f8d"/>
<rect x="438.44" y="502.12" width="6.62" height="6.93" fill="#38598c"/>
<rect x="438.44" y="509.00" width="6.62" height="6.93" fill="#34608d"/>
<rect x="438.44" y="515.88" width="6.62" height="6.93" fill="#3e4c8a"/>
<rect x="438.44" y="522.76" width="6.62" height="6.93" fill="#3f4788"/>
<rect x="438.44" y="529.64" width="6.62" height="6.93" fill="#404688"/>
<rect x="438.44" y="536.52" width="6.62" height="6.93" fill="#443a83"/>
<rect x="438.44" y="543.40" width="6.62" height="6.93" fill="#433e85"/>
<rect x="438.44" y="550.28" width="6.62" height="6.93" fill="#482576"/>
<rect x="438.44" y="557.16" width="6.62" height="6.93" fill="#481d6f"/>
<rect x="438.44" y="564.04" width="6.62" height="6.93" fill="#481d6f"/>
<rect x="438.44" y="570.92" width="6.62" height="6.93" fill="#440154"/>
<rect x="438.44" y="577.80" width="6.62" height="6.93" fill="#481d6f"/>
<rect x="445.01" y="343.88" width="6.62" height="6.93" fill="#3c508b"/>
<rect x="445.01" y="350.76" width="6.62" height="6.93" fill="#38588c"/>
<rect x="445.01" y="357.64" width="6.62" height="6.93" fill="#365c8d"/>
<rect x="445.01" y="364.52" width="6.62" height="6.93" fill="#33628d"/>
<rect x="445.01" y="371.40" width="6.62" height="6.93" fill="#31668e"/>
<rect x="445.01" y="378.28" width="6.62" height="6.93" fill="#2e6f8e"/>
<rect x="445.01" y="385.16" width="6.62" height="6.93" fill="#2d708e"/>
<rect x="445.01" y="392.04" width="6.62" height="6.93" fill="#2b758e"/>
<rect x="445.01" y="398.92" width="6.62" height="6.93" fill="#29798e"/>
<rect x="445.01" y="405.80" width="6.62" height="6.93" fill="#2b748e"/>
<rect x="445.01" y="412.68" width="6.62" height="6.93" fill="#2a768e"/>
<rect x="445.01" y="419.56" width="6.62" height="6.93" fill="#2a768e"/>
<rect x="445.01" y="426.44" width="6.62" height="6.93" fill="#2b758e"/>
<rect x="445.01" y="433.32" width="6.62" height="6.93" fill="#2c728e"/>
<rect x="445.01" y="440.20" width="6.62" height="6.93" fill="#2c728e"/>
<rect x="445.01" y="447.08" width="6.62" height="6.93" fill="#2d718e"/>
<rect x="445.01" y="453.96" width="6.62" height="6.93" fill="#2c738e"/>
<rect x="445.01" y="460.84" width="6.62" height="6.93" fill="#2f6c8e"/>
<rect x="445.01" y="467.72" width="6.62" height="6.93" fill="#2f6b8e"/>
<rect x="445.01" y="474.60" width="6.62" height="6.93" fill="#31678e"/>
<rect x="445.01" y="481.48" width="6.62" height="6.93" fill="#32648e"/>
<rect x="445.01" y="488.36" width="6.62" height="6.93" fill="#365d8d"/>
<rect x="445.01" y="495.24" width="6.62" height="6.93" fill="#365c8d"/>
<rect x="445.01" y="502.12" width="6.62" height="6.93" fill="#3e4c8a"/>
<rect x="445.01" y="509.00" width="6.62" height="6.93" fill="#3b518b"/>
<rect x="445.01" y="515.88" width="6.62" height="6.93" fill="#424086"/>
<rect x="445.01" y="522.76" width="6.62" height="6.93" fill="#424186"/>
<rect x="445.01" y="529.64" width="6.62" height="6.93" fill="#3f4889"/>
<rect x="445.01" y="536.52" width="6.62" height="6.93" fill="#472e7c"/>
<rect x="445.01" y="543.40" width="6.62" height="6.93" fill="#472a7a"/>
<rect x="445.01" y="550.28" width="6.62" height="6.93" fill="#481d6f"/>
<rect x="445.01" y="557.16" width="6.62" height="6.93" fill="#46327e"/>
<rect x="445.01" y="564.04" width="6.62" height="6.93" fill="#481d6f"/>
<rect x="445.01" y="577.80" width="6.62" height="6.93" fill="#481467"/>
<rect x="451.58" y="337.00" width="6.62" height="6.93" fill="#3d4e8a"/>
<rect x="451.58" y="343.88" width="6.62" height="6.93" fill="#39568c"/>
<rect x="451.58" y="350.76" width="6.62" height="6.93" fill="#33628d"/>
<rect x="451.58" y="357.64" width="6.62" height="6.93" fill="#2f6b8e"/>
<rect x="451.58" y="364.52" width="6.62" height="6.93" fill="#2f6b8e"/>
<rect x="451.58" y="371.40" width="6.62" height="6.93" fill="#2e6f8e"/>
<rect x="451.58" y="378.28" width="6.62" height="6.93" fill="#2c728e"/>
<rect x="451.58" y="385.16" width="6.62" height="6.93" fill="#2b748e"/>
<rect x="451.58" y="392.04" width="6.62" height="6.93" fill="#2a788e"/>
<rect x="451.58" y="398.92" width="6.62" height="6.93" fill="#2b758e"/>
<rect x="451.58" y="405.80" width="6.62" height="6.93" fill="#2a768e"/>
<rect x="451.58" y="412.68" width="6.62" height="6.93" fill="#2b748e"/>
<rect x="451.58" y="419.56" width="6.62" height="6.93" fill="#2c728e"/>
<rect x="451.58" y="426.44" width="6.62" height="6.93" fill="#2d718e"/>
<rect x="451.58" y="433.32" width="6.62" height="6.93" fill="#2e6f8e"/>
<rect x="451.58" y="440.20" width="6.62" height="6.93" fill="#2e6d8e"/>
<rect x="451.58" y="447.08" width="6.62" height="6.93" fill="#2e6d8e"/>
<rect x="451.58" y="453.96" width="6.62" height="6.93" fill="#2e6d8e"/>
<rect x="451.58" y="460.84" width="6.62" height="6.93" fill="#30698e"/>
<rect x="451.58" y="467.72" width="6.62" height="6.93" fill="#30698e"/>
<rect x="451.58" y="474.60" width="6.62" height="6.93" fill="#33638d"/>
<rect x="451.58" y="481.48" width="6.62" height="6.93" fill="#365d8d"/>
<rect x="451.58" y="488.36" width="6.62" height="6.93" fill="#365c8d"/>
<rect x="451.58" y="495.24" width="6.62" height="6.93" fill="#3a548c"/>
<rect x="451.58" y="502.12" width="6.62" height="6.93" fill="#3e4c8a"/>
<rect x="451.58" y="509.00" width="6.62" height="6.93" fill="#3e4c8a"/>
<rect x="451.58" y="515.88" width="6.62" height="6.93" fill="#3e4c8a"/>
<rect x="451.58" y="522.76" width="6.62" height="6.93" fill="#443a83"/>
<rect x="451.58" y="529.64" width="6.62" height="6.93" fill="#443a83"/>
<rect x="451.58" y="536.52" width="6.62" height="6.93" fill="#482576"/>
<rect x="451.58" y="543.40" width="6.62" height="6.93" fill="#481d6f"/>
<rect x="451.58" y="550.28" width="6.62" height="6.93" fill="#481467"/>
<rect x="451.58" y="557.16" width="6.62" height="6.93" fill="#440154"/>
<rect x="451.58" y="564.04" width="6.62" height="6.93" fill="#481467"/>
<rect x="451.58" y="570.92" width="6.62" height="6.93" fill="#440154"/>
<rect x="451.58" y="577.80" width="6.62" height="6.93" fill="#481467"/>
<rect x="458.15" y="337.00" width="6.62" height="6.93" fill="#3c4f8a"/>
<rect x="458.15" y="343.88" width="6.62" height="6.93" fill="#365c8d"/>
<rect x="458.15" y="350.76" width="6.62" height="6.93" fill="#30698e"/>
<rect x="458.15" y="357.64" width="6.62" height="6.93" fill="#2e6f8e"/>
<rect x="458.15" y="364.52" width="6.62" height="6.93" fill="#2e6d8e"/>
<rect x="458.15" y="371.40" width="6.62" height="6.93" fill="#2c718e"/>
<rect x="458.15" y="378.28" width="6.62" height="6.93" fill="#2c728e"/>
<rect x="458.15" y="385.16" width="6.62" height="6.93" fill="#2b748e"/>
<rect x="458.15" y="392.04" width="6.62" height="6.93" fill="#2c728e"/>
<rect x="458.15" y="398.92" width="6.62" height="6.93" fill="#2b748e"/>
<rect x="458.15" y="405.80" width="6.62" height="6.93" fill="#2d708e"/>
<rect x="458.15" y="412.68" width="6.62" height="6.93" fill="#2d718e"/>
<rect x="458.15" y="419.56" width="6.62" height="6.93" fill="#2e6f8e"/>
<rect x="458.15" y="426.44" width="6.62" height="6.93" fill="#2e6e8e"/>
<rect x="458.15" y="433.32" width="6.62" height="6.93" fill="#2e6d8e"/>
<rect x="458.15" y="440.20" width="6.62" height="6.93" fill="#2e6e8e"/>
<rect x="458.15" y="447.08" width="6.62" height="6.93" fill="#2e6d8e"/>
<rect x="458.15" y="453.96" width="6.62" height="6.93" fill="#31678e"/>
<rect x="458.15" y="460.84" width="6.62" height="6.93" fill="#32648e"/>
<rect x="458.15" y="467.72" width="6.62" height="6.93" fill="#32658e"/>
<rect x="458.15" y="474.60" width="6.62" height="6.93" fill="#365c8d"/>
<rect x="458.15" y="481.48" width="6.62" height="6.93" fill="#375b8d"/>
<rect x="458.15" y="488.36" width="6.62" height="6.93" fill="#38598c"/>
<rect x="458.15" y="495.24" width="6.62" height="6.93" fill="#3c4f8a"/>
<rect x="458.15" y="502.12" width="6.62" height="6.93" fill="#404588"/>
<rect x="458.15" y="509.00" width="6.62" height="6.93" fill="#453581"/>
<rect x="458.15" y="515.88" width="6.62" height="6.93" fill="#404688"/>
<rect x="458.15" y="522.76" width="6.62" height="6.93" fill="#472a7a"/>
<rect x="458.15" y="529.64" width="6.62" height="6.93" fill="#472e7c"/>
<rect x="458.15" y="536.52" width="6.62" height="6.93" fill="#440154"/>
<rect x="458.15" y="543.40" width="6.62" height="6.93" fill="#472a7a"/>
<rect x="458.15" y="550.28" width="6.62" height="6.93" fill="#482576"/>
<rect x="458.15" y="557.16" width="6.62" height="6.93" fill="#481467"/>
<rect x="458.15" y="564.04" width="6.62" height="6.93" fill="#440154"/>
<rect x="464.72" y="337.00" width="6.62" height="6.93" fill="#424086"/>
<rect x="464.72" y="343.88" width="6.62" height="6.93" fill="#365c8d"/>
<rect x="464.72" y="350.76" width="6.62" height="6.93" fill="#2e6d8e"/>
<rect x="464.72" y="357.64" width="6.62" height="6.93" fill="#2e6f8e"/>
<rect x="464.72" y="364.52" width="6.62" height="6.93" fill="#2e6f8e"/>
<rect x="464.72" y="371.40" width="6.62" height="6.93" fill="#2d718e"/>
<rect x="464.72" y="378.28" width="6.62" height="6.93" fill="#2c728e"/>
<rect x="464.72" y="385.16" width="6.62" height="6.93" fill="#2d708e"/>
<rect x="464.72" y="392.04" width="6.62" height="6.93" fill="#2d718e"/>
<rect x="464.72" y="398.92" width="6.62" height="6.93" fill="#2e6f8e"/>
<rect x="464.72" y="405.80" width="6.62" height="6.93" fill="#2d718e"/>
<rect x="464.72" y="412.68" width="6.62" height="6.93" fill="#2e6d8e"/>
<rect x="464.72" y="419.56" width="6.62" height="6.93" fill="#2f6b8e"/>
<rect x="464.72" y="426.44" width="6.62" height="6.93" fill="#2f6c8e"/>
<rect x="464.72" y="433.32" width="6.62" height="6.93" fill="#31688e"/>
<rect x="464.72" y="440.20" width="6.62" height="6.93" fill="#31688e"/>
<rect x="464.72" y="447.08" width="6.62" height="6.93" fill="#31668e"/>
<rect x="464.72" y="453.96" width="6.62" height="6.93" fill="#32658e"/>
<rect x="464.72" y="460.84" width="6.62" height="6.93" fill="#32648e"/>
<rect x="464.72" y="467.72" width="6.62" height="6.93" fill="#365d8d"/>
<rect x="464.72" y="474.60" width="6.62" height="6.93" fill="#365c8d"/>
<rect x="464.72" y="481.48" width="6.62" height="6.93" fill="#3d4d8a"/>
<rect x="464.72" y="488.36" width="6.62" height="6.93" fill="#3f4889"/>
<rect x="464.72" y="495.24" width="6.62" height="6.93" fill="#424086"/>
<rect x="464.72" y="502.12" width="6.62" height="6.93" fill="#424186"/>
<rect x="464.72" y="509.00" width="6.62" height="6.93" fill="#472e7c"/>
<rect x="464.72" y="515.88" width="6.62" height="6.93" fill="#443a83"/>
<rect x="464.72" y="522.76" width="6.62" height="6.93" fill="#481d6f"/>
<rect x="464.72" y="529.64" width="6.62" height="6.93" fill="#481467"/>
<rect x="464.72" y="536.52" width="6.62" height="6.93" fill="#481467"/>
<rect x="464.72" y="543.40" width="6.62" height="6.93" fill="#481d6f"/>
<rect x="464.72" y="557.16" width="6.62" height="6.93" fill="#481467"/>
<rect x="464.72" y="564.04" width="6.62" height="6.93" fill="#440154"/>
<rect x="464.72" y="570.92" width="6.62" height="6.93" fill="#440154"/>
<rect x="471.29" y="337.00" width="6.62" height="6.93" fill="#443a83"/>
<rect x="471.29" y="343.88" width="6.62" height="6.93" fill="#365d8d"/>
<rect x="471.29" y="350.76" width="6.62" height="6.93" fill="#2e6f8e"/>
<rect x="471.29" y="357.64" width="6.62" height="6.93" fill="#2e6f8e"/>
<rect x="471.29" y="364.52" width="6.62" height="6.93" fill="#2e6f8e"/>
<rect x="471.29" y="371.40" width="6.62" height="6.93" fill="#2f6c8e"/>
<rect x="471.29" y="378.28" width="6.62" height="6.93" fill="#2d708e"/>
<rect x="471.29" y="385.16" width="6.62" height="6.93" fill="#2e6d8e"/>
<rect x="471.29" y="392.04" width="6.62" height="6.93" fill="#2f6c8e"/>
<rect x="471.29" y="398.92" width="6.62" height="6.93" fill="#2f6c8e"/>
<rect x="471.29" y="405.80" width="6.62" height="6.93" fill="#2f6b8e"/>
<rect x="471.29" y="412.68" width="6.62" height="6.93" fill="#2e6e8e"/>
<rect x="471.29" y="419.56" width="6.62" height="6.93" fill="#306a8e"/>
<rect x="471.29" y="426.44" width="6.62" height="6.93" fill="#306a8e"/>
<rect x="471.29" y="433.32" width="6.62" height="6.93" fill="#31688e"/>
<rect x="471.29" y="440.20" width="6.62" height="6.93" fill="#31668e"/>
<rect x="471.29" y="447.08" width="6.62" height="6.93" fill="#32648e"/>
<rect x="471.29" y="453.96" width="6.62" height="6.93" fill="#33628d"/>
<rect x="471.29" y="460.84" width="6.62" height="6.93" fill="#355f8d"/>
<rect x="471.29" y="467.72" width="6.62" height="6.93" fill="#365d8d"/>
<rect x="471.29" y="474.60" width="6.62" height="6.93" fill="#3a548c"/>
<rect x="471.29" y="481.48" width="6.62" height="6.93" fill="#3f4788"/>
<rect x="471.29" y="488.36" width="6.62" height="6.93" fill="#3e4989"/>
<rect x="471.29" y="495.24" width="6.62" height="6.93" fill="#424086"/>
<rect x="471.29" y="502.12" width="6.62" height="6.93" fill="#453581"/>
<rect x="471.29" y="509.00" width="6.62" height="6.93" fill="#424086"/>
<rect x="471.29" y="515.88" width="6.62" height="6.93" fill="#433e85"/>
<rect x="471.29" y="522.76" width="6.62" height="6.93" fill="#482576"/>
<rect x="471.29" y="529.64" width="6.62" height="6.93" fill="#440154"/>
<rect x="471.29" y="536.52" width="6.62" height="6.93" fill="#481d6f"/>
<rect x="471.29" y="543.40" width="6.62" height="6.93" fill="#440154"/>
<rect x="471.29" y="550.28" width="6.62" height="6.93" fill="#481467"/>
<rect x="471.29" y="557.16" width="6.62" height="6.93" fill="#481d6f"/>
<rect x="471.29" y="584.68" width="6.62" height="6.93" fill="#440154"/>
<rect x="477.86" y="337.00" width="6.62" height="6.93" fill="#46327e"/>
<rect x="477.86" y="343.88" width="6.62" height="6.93" fill="#38598c"/>
<rect x="477.86" y="350.76" width="6.62" height="6.93" fill="#2e6e8e"/>
<rect x="477.86" y="357.64" width="6.62" height="6.93" fill="#2e6f8e"/>
<rect x="477.86" y="364.52" width="6.62" height="6.93" fill="#2d708e"/>
<rect x="477.86" y="371.40" width="6.62" height="6.93" fill="#2f6b8e"/>
<rect x="477.86" y="378.28" width="6.62" height="6.93" fill="#306a8e"/>
<rect x="477.86" y="385.16" width="6.62" height="6.93" fill="#306a8e"/>
<rect x="477.86" y="392.04" width="6.62" height="6.93" fill="#306a8e"/>
<rect x="477.86" y="398.92" width="6.62" height="6.93" fill="#306a8e"/>
<rect x="477.86" y="405.80" width="6.62" height="6.93" fill="#306a8e"/>
<rect x="477.86" y="412.68" width="6.62" height="6.93" fill="#30698e"/>
<rect x="477.86" y="419.56" width="6.62" height="6.93" fill="#31668e"/>
<rect x="477.86" y="426.44" width="6.62" height="6.93" fill="#32648e"/>
<rect x="477.86" y="433.32" width="6.62" height="6.93" fill="#32648e"/>
<rect x="477.86" y="440.20" width="6.62" height="6.93" fill="#355f8d"/>
<rect x="477.86" y="447.08" width="6.62" height="6.93" fill="#33628d"/>
<rect x="477.86" y="453.96" width="6.62" height="6.93" fill="#33628d"/>
<rect x="477.86" y="460.84" width="6.62" height="6.93" fill="#38598c"/>
<rect x="477.86" y="467.72" width="6.62" height="6.93" fill="#3e4c8a"/>
<rect x="477.86" y="474.60" width="6.62" height="6.93" fill="#39568c"/>
<rect x="477.86" y="481.48" width="6.62" height="6.93" fill="#404588"/>
<rect x="477.86" y="488.36" width="6.62" height="6.93" fill="#414287"/>
<rect x="477.86" y="495.24" width="6.62" height="6.93" fill="#453882"/>
<rect x="477.86" y="502.12" width="6.62" height="6.93" fill="#433e85"/>
<rect x="477.86" y="509.00" width="6.62" height="6.93" fill="#472e7c"/>
<rect x="477.86" y="515.88" width="6.62" height="6.93" fill="#46327e"/>
<rect x="477.86" y="522.76" width="6.62" height="6.93" fill="#453581"/>
<rect x="477.86" y="529.64" width="6.62" height="6.93" fill="#481467"/>
<rect x="477.86" y="536.52" width="6.62" height="6.93" fill="#482576"/>
<rect x="477.86" y="543.40" width="6.62" height="6.93" fill="#481467"/>
<rect x="484.43" y="323.24" width="6.62" height="6.93" fill="#472e7c"/>
<rect x="484.43" y="330.12" width="6.62" height="6.93" fill="#3a548c"/>
<rect x="484.43" y="337.00" width="6.62" height="6.93" fill="#2e6e8e"/>
<rect x="484.43" y="343.88" width="6.62" height="6.93" fill="#2b748e"/>
<rect x="484.43" y="350.76" width="6.62" height="6.93" fill="#2b748e"/>
<rect x="484.43" y="357.64" width="6.62" height="6.93" fill="#2f6b8e"/>
<rect x="484.43" y="364.52" width="6.62" height="6.93" fill="#306a8e"/>
<rect x="484.43" y="371.40" width="6.62" height="6.93" fill="#306a8e"/>
<rect x="484.43" y="378.28" width="6.62" height="6.93" fill="#2f6b8e"/>
<rect x="484.43" y="385.16" width="6.62" height="6.93" fill="#31678e"/>
<rect x="484.43" y="392.04" width="6.62" height="6.93" fill="#30698e"/>
<rect x="484.43" y="398.92" width="6.62" height="6.93" fill="#31678e"/>
<rect x="484.43" y="405.80" width="6.62" height="6.93" fill="#32658e"/>
<rect x="484.43" y="412.68" width="6.62" height="6.93" fill="#32658e"/>
<rect x="484.43" y="419.56" width="6.62" height="6.93" fill="#32658e"/>
<rect x="484.43" y="426.44" width="6.62" height="6.93" fill="#33638d"/>
<rect x="484.43" y="433.32" width="6.62" height="6.93" fill="#34608d"/>
<rect x="484.43" y="440.20" width="6.62" height="6.93" fill="#34618d"/>
<rect x="484.43" y="447.08" width="6.62" height="6.93" fill="#375a8c"/>
<rect x="484.43" y="453.96" width="6.62" height="6.93" fill="#38588c"/>
<rect x="484.43" y="460.84" width="6.62" height="6.93" fill="#39558c"/>
<rect x="484.43" y="467.72" width="6.62" height="6.93" fill="#3b528b"/>
<rect x="484.43" y="474.60" width="6.62" height="6.93" fill="#404688"/>
<rect x="484.43" y="481.48" width="6.62" height="6.93" fill="#3b518b"/>
<rect x="484.43" y="488.36" width="6.62" height="6.93" fill="#404588"/>
<rect x="484.43" y="495.24" width="6.62" height="6.93" fill="#404588"/>
<rect x="484.43" y="502.12" width="6.62" height="6.93" fill="#482576"/>
<rect x="484.43" y="509.00" width="6.62" height="6.93" fill="#481d6f"/>
<rect x="484.43" y="515.88" width="6.62" height="6.93" fill="#440154"/>
<rect x="484.43" y="522.76" width="6.62" height="6.93" fill="#472a7a"/>
<rect x="484.43" y="529.64" width="6.62" height="6.93" fill="#481d6f"/>
<rect x="484.43" y="543.40" width="6.62" height="6.93" fill="#440154"/>
<rect x="484.43" y="577.80" width="6.62" height="6.93" fill="#440154"/>
<rect x="491.00" y="323.24" width="6.62" height="6.93" fill="#472e7c"/>
<rect x="491.00" y="330.12" width="6.62" height="6.93" fill="#38588c"/>
<rect x="491.00" y="337.00" width="6.62" height="6.93" fill="#2f6b8e"/>
<rect x="491.00" y="343.88" width="6.62" height="6.93" fill="#2c728e"/>
<rect x="491.00" y="350.76" width="6.62" height="6.93" fill="#2d708e"/>
<rect x="491.00" y="357.64" width="6.62" height="6.93" fill="#2f6c8e"/>
<rect x="491.00" y="364.52" width="6.62" height="6.93" fill="#30698e"/>
<rect x="491.00" y="371.40" width="6.62" height="6.93" fill="#31688e"/>
<rect x="491.00" y="378.28" width="6.62" height="6.93" fill="#31678e"/>
<rect x="491.00" y="385.16" width="6.62" height="6.93" fill="#31678e"/>
<rect x="491.00" y="392.04" width="6.62" height="6.93" fill="#31678e"/>
<rect x="491.00" y="398.92" width="6.62" height="6.93" fill="#31668e"/>
<rect x="491.00" y="405.80" width="6.62" height="6.93" fill="#34618d"/>
<rect x="491.00" y="412.68" width="6.62" height="6.93" fill="#33628d"/>
<rect x="491.00" y="419.56" width="6.62" height="6.93" fill="#33638d"/>
<rect x="491.00" y="426.44" width="6.62" height="6.93" fill="#355e8d"/>
<rect x="491.00" y="433.32" width="6.62" height="6.93" fill="#375a8c"/>
<rect x="491.00" y="440.20" width="6.62" height="6.93" fill="#365c8d"/>
<rect x="491.00" y="447.08" width="6.62" height="6.93" fill="#38598c"/>
<rect x="491.00" y="453.96" width="6.62" height="6.93" fill="#3b518b"/>
<rect x="491.00" y="460.84" width="6.62" height="6.93" fill="#375a8c"/>
<rect x="491.00" y="467.72" width="6.62" height="6.93" fill="#3c4f8a"/>
<rect x="491.00" y="474.60" width="6.62" height="6.93" fill="#3c4f8a"/>
<rect x="491.00" y="481.48" width="6.62" height="6.93" fill="#3f4889"/>
<rect x="491.00" y="488.36" width="6.62" height="6.93" fill="#443a83"/>
<rect x="491.00" y="495.24" width="6.62" height="6.93" fill="#453882"/>
<rect x="491.00" y="502.12" width="6.62" height="6.93" fill="#453581"/>
<rect x="491.00" y="509.00" width="6.62" height="6.93" fill="#482576"/>
<rect x="491.00" y="515.88" width="6.62" height="6.93" fill="#440154"/>
<rect x="491.00" y="522.76" width="6.62" height="6.93" fill="#481467"/>
<rect x="491.00" y="536.52" width="6.62" height="6.93" fill="#481467"/>
<rect x="491.00" y="557.16" width="6.62" height="6.93" fill="#440154"/>
<rect x="497.57" y="323.24" width="6.62" height="6.93" fill="#482576"/>
<rect x="497.57" y="330.12" width="6.62" height="6.93" fill="#38598c"/>
<rect x="497.57" y="337.00" width="6.62" height="6.93" fill="#2e6e8e"/>
<rect x="497.57" y="343.88" width="6.62" height="6.93" fill="#2c738e"/>
<rect x="497.57" y="350.76" width="6.62" height="6.93" fill="#2c718e"/>
<rect x="497.57" y="357.64" width="6.62" height="6.93" fill="#2f6c8e"/>
<rect x="497.57" y="364.52" width="6.62" height="6.93" fill="#33638d"/>
<rect x="497.57" y="371.40" width="6.62" height="6.93" fill="#32658e"/>
<rect x="497.57" y="378.28" width="6.62" height="6.93" fill="#31678e"/>
<rect x="497.57" y="385.16" width="6.62" height="6.93" fill="#33628d"/>
<rect x="497.57" y="392.04" width="6.62" height="6.93" fill="#33628d"/>
<rect x="497.57" y="398.92" width="6.62" height="6.93" fill="#34608d"/>
<rect x="497.57" y="405.80" width="6.62" height="6.93" fill="#34618d"/>
<rect x="497.57" y="412.68" width="6.62" height="6.93" fill="#365c8d"/>
<rect x="497.57" y="419.56" width="6.62" height="6.93" fill="#365d8d"/>
<rect x="497.57" y="426.44" width="6.62" height="6.93" fill="#375b8d"/>
<rect x="497.57" y="433.32" width="6.62" height="6.93" fill="#375a8c"/>
<rect x="497.57" y="440.20" width="6.62" height="6.93" fill="#3b528b"/>
<rect x="497.57" y="447.08" width="6.62" height="6.93" fill="#3b518b"/>
<rect x="497.57" y="453.96" width="6.62" height="6.93" fill="#3b528b"/>
<rect x="497.57" y="460.84" width="6.62" height="6.93" fill="#46327e"/>
<rect x="497.57" y="467.72" width="6.62" height="6.93" fill="#414287"/>
<rect x="497.57" y="474.60" width="6.62" height="6.93" fill="#3f4889"/>
<rect x="497.57" y="481.48" width="6.62" height="6.93" fill="#433e85"/>
<rect x="497.57" y="488.36" width="6.62" height="6.93" fill="#482576"/>
<rect x="497.57" y="495.24" width="6.62" height="6.93" fill="#482576"/>
<rect x="497.57" y="502.12" width="6.62" height="6.93" fill="#481467"/>
<rect x="497.57" y="509.00" width="6.62" height="6.93" fill="#46327e"/>
<rect x="497.57" y="515.88" width="6.62" height="6.93" fill="#481467"/>
<rect x="497.57" y="529.64" width="6.62" height="6.93" fill="#440154"/>
<rect x="497.57" y="550.28" width="6.62" height="6.93" fill="#440154"/>
<rect x="504.14" y="323.24" width="6.62" height="6.93" fill="#472a7a"/>
<rect x="504.14" y="330.12" width="6.62" height="6.93" fill="#3a548c"/>
<rect x="504.14" y="337.00" width="6.62" height="6.93" fill="#2e6e8e"/>
<rect x="504.14" y="343.88" width="6.62" height="6.93" fill="#2c728e"/>
<rect x="504.14" y="350.76" width="6.62" height="6.93" fill="#2c718e"/>
<rect x="504.14" y="357.64" width="6.62" height="6.93" fill="#2e6d8e"/>
<rect x="504.14" y="364.52" width="6.62" height="6.93" fill="#31678e"/>
<rect x="504.14" y="371.40" width="6.62" height="6.93" fill="#33638d"/>
<rect x="504.14" y="378.28" width="6.62" height="6.93" fill="#32658e"/>
<rect x="504.14" y="385.16" width="6.62" height="6.93" fill="#33628d"/>
<rect x="504.14" y="392.04" width="6.62" height="6.93" fill="#34608d"/>
<rect x="504.14" y="398.92" width="6.62" height="6.93" fill="#375b8d"/>
<rect x="504.14" y="405.80" width="6.62" height="6.93" fill="#355e8d"/>
<rect x="504.14" y="412.68" width="6.62" height="6.93" fill="#365c8d"/>
<rect x="504.14" y="419.56" width="6.62" height="6.93" fill="#375b8d"/>
<rect x="504.14" y="426.44" width="6.62" height="6.93" fill="#38588c"/>
<rect x="504.14" y="433.32" width="6.62" height="6.93" fill="#39568c"/>
<rect x="504.14" y="440.20" width="6.62" height="6.93" fill="#39568c"/>
<rect x="504.14" y="447.08" width="6.62" height="6.93" fill="#3c508b"/>
<rect x="504.14" y="453.96" width="6.62" height="6.93" fill="#3a548c"/>
<rect x="504.14" y="460.84" width="6.62" height="6.93" fill="#3c4f8a"/>
<rect x="504.14" y="467.72" width="6.62" height="6.93" fill="#3c4f8a"/>
<rect x="504.14" y="474.60" width="6.62" height="6.93" fill="#3f4788"/>
<rect x="504.14" y="481.48" width="6.62" height="6.93" fill="#433d84"/>
<rect x="504.14" y="488.36" width="6.62" height="6.93" fill="#472e7c"/>
<rect x="504.14" y="495.24" width="6.62" height="6.93" fill="#481d6f"/>
<rect x="504.14" y="502.12" width="6.62" height="6.93" fill="#481467"/>
<rect x="504.14" y="509.00" width="6.62" height="6.93" fill="#481467"/>
<rect x="504.14" y="515.88" width="6.62" height="6.93" fill="#481467"/>
<rect x="504.14" y="529.64" width="6.62" height="6.93" fill="#440154"/>
<rect x="510.71" y="316.36" width="6.62" height="6.93" fill="#46327e"/>
<rect x="510.71" y="323.24" width="6.62" height="6.93" fill="#365c8d"/>
<rect x="510.71" y="330.12" width="6.62" height="6.93" fill="#2f6c8e"/>
<rect x="510.71" y="337.00" width="6.62" height="6.93" fill="#2b748e"/>
<rect x="510.71" y="343.88" width="6.62" height="6.93" fill="#2b748e"/>
<rect x="510.71" y="350.76" width="6.62" height="6.93" fill="#2e6d8e"/>
<rect x="510.71" y="357.64" width="6.62" height="6.93" fill="#33638d"/>
<rect x="510.71" y="364.52" width="6.62" height="6.93" fill="#34618d"/>
<rect x="510.71" y="371.40" width="6.62" height="6.93" fill="#34618d"/>
<rect x="510.71" y="378.28" width="6.62" height="6.93" fill="#34618d"/>
<rect x="510.71" y="385.16" width="6.62" height="6.93" fill="#34618d"/>
<rect x="510.71" y="392.04" width="6.62" height="6.93" fill="#355f8d"/>
<rect x="510.71" y="398.92" width="6.62" height="6.93" fill="#365d8d"/>
<rect x="510.71" y="405.80" width="6.62" height="6.93" fill="#375b8d"/>
<rect x="510.71" y="412.68" width="6.62" height="6.93" fill="#38598c"/>
<rect x="510.71" y="419.56" width="6.62" height="6.93" fill="#3b528b"/>
<rect x="510.71" y="426.44" width="6.62" height="6.93" fill="#355e8d"/>
<rect x="510.71" y="433.32" width="6.62" height="6.93" fill="#3a548c"/>
<rect x="510.71" y="440.20" width="6.62" height="6.93" fill="#38588c"/>
<rect x="510.71" y="447.08" width="6.62" height="6.93" fill="#46327e"/>
<rect x="510.71" y="453.96" width="6.62" height="6.93" fill="#404588"/>
<rect x="510.71" y="460.84" width="6.62" height="6.93" fill="#424186"/>
<rect x="510.71" y="467.72" width="6.62" height="6.93" fill="#433d84"/>
<rect x="510.71" y="474.60" width="6.62" height="6.93" fill="#453581"/>
<rect x="510.71" y="481.48" width="6.62" height="6.93" fill="#472e7c"/>
<rect x="510.71" y="488.36" width="6.62" height="6.93" fill="#481d6f"/>
<rect x="510.71" y="495.24" width="6.62" height="6.93" fill="#482576"/>
<rect x="510.71" y="502.12" width="6.62" height="6.93" fill="#481467"/>
<rect x="510.71" y="509.00" width="6.62" height="6.93" fill="#440154"/>
<rect x="510.71" y="536.52" width="6.62" height="6.93" fill="#440154"/>
<rect x="517.28" y="309.48" width="6.62" height="6.93" fill="#481467"/>
<rect x="517.28" y="316.36" width="6.62" height="6.93" fill="#365c8d"/>
<rect x="517.28" y="323.24" width="6.62" height="6.93" fill="#2f6b8e"/>
<rect x="517.28" y="330.12" width="6.62" height="6.93" fill="#2b758e"/>
<rect x="517.28" y="337.00" width="6.62" height="6.93" fill="#2a778e"/>
<rect x="517.28" y="343.88" width="6.62" height="6.93" fill="#2e6e8e"/>
<rect x="517.28" y="350.76" width="6.62" height="6.93" fill="#32658e"/>
<rect x="517.28" y="357.64" width="6.62" height="6.93" fill="#34608d"/>
<rect x="517.28" y="364.52" width="6.62" height="6.93" fill="#34608d"/>
<rect x="517.28" y="371.40" width="6.62" height="6.93" fill="#34608d"/>
<rect x="517.28" y="378.28" width="6.62" height="6.93" fill="#365c8d"/>
<rect x="517.28" y="385.16" width="6.62" height="6.93" fill="#375b8d"/>
<rect x="517.28" y="392.04" width="6.62" height="6.93" fill="#355e8d"/>
<rect x="517.28" y="398.92" width="6.62" height="6.93" fill="#38598c"/>
<rect x="517.28" y="405.80" width="6.62" height="6.93" fill="#375a8c"/>
<rect x="517.28" y="412.68" width="6.62" height="6.93" fill="#3a538b"/>
<rect x="517.28" y="419.56" width="6.62" height="6.93" fill="#39568c"/>
<rect x="517.28" y="426.44" width="6.62" height="6.93" fill="#404688"/>
<rect x="517.28" y="433.32" width="6.62" height="6.93" fill="#3d4d8a"/>
<rect x="517.28" y="440.20" width="6.62" height="6.93" fill="#404588"/>
<rect x="517.28" y="447.08" width="6.62" height="6.93" fill="#424086"/>
<rect x="517.28" y="453.96" width="6.62" height="6.93" fill="#404588"/>
<rect x="517.28" y="460.84" width="6.62" height="6.93" fill="#404588"/>
<rect x="517.28" y="467.72" width="6.62" height="6.93" fill="#46327e"/>
<rect x="517.28" y="474.60" width="6.62" height="6.93" fill="#453581"/>
<rect x="517.28" y="481.48" width="6.62" height="6.93" fill="#481467"/>
<rect x="517.28" y="488.36" width="6.62" height="6.93" fill="#481d6f"/>
<rect x="517.28" y="495.24" width="6.62" height="6.93" fill="#440154"/>
<rect x="517.28" y="502.12" width="6.62" height="6.93" fill="#481467"/>
<rect x="523.85" y="309.48" width="6.62" height="6.93" fill="#453581"/>
<rect x="523.85" y="316.36" width="6.62" height="6.93" fill="#355e8d"/>
<rect x="523.85" y="323.24" width="6.62" height="6.93" fill="#2d718e"/>
<rect x="523.85" y="330.12" width="6.62" height="6.93" fill="#2b748e"/>
<rect x="523.85" y="337.00" width="6.62" height="6.93" fill="#2a788e"/>
<rect x="523.85" y="343.88" width="6.62" height="6.93" fill="#2d718e"/>
<rect x="523.85" y="350.76" width="6.62" height="6.93" fill="#32658e"/>
<rect x="523.85" y="357.64" width="6.62" height="6.93" fill="#365c8d"/>
<rect x="523.85" y="364.52" width="6.62" height="6.93" fill="#375b8d"/>
<rect x="523.85" y="371.40" width="6.62" height="6.93" fill="#375a8c"/>
<rect x="523.85" y="378.28" width="6.62" height="6.93" fill="#365d8d"/>
<rect x="523.85" y="385.16" width="6.62" height="6.93" fill="#375a8c"/>
<rect x="523.85" y="392.04" width="6.62" height="6.93" fill="#39568c"/>
<rect x="523.85" y="398.92" width="6.62" height="6.93" fill="#355e8d"/>
<rect x="523.85" y="405.80" width="6.62" height="6.93" fill="#39568c"/>
<rect x="523.85" y="412.68" width="6.62" height="6.93" fill="#424086"/>
<rect x="523.85" y="419.56" width="6.62" height="6.93" fill="#38598c"/>
<rect x="523.85" y="426.44" width="6.62" height="6.93" fill="#404588"/>
<rect x="523.85" y="433.32" width="6.62" height="6.93" fill="#3e4a89"/>
<rect x="523.85" y="440.20" width="6.62" height="6.93" fill="#3c508b"/>
<rect x="523.85" y="447.08" width="6.62" height="6.93" fill="#443a83"/>
<rect x="523.85" y="453.96" width="6.62" height="6.93" fill="#404688"/>
<rect x="523.85" y="460.84" width="6.62" height="6.93" fill="#472e7c"/>
<rect x="523.85" y="467.72" width="6.62" height="6.93" fill="#472e7c"/>
<rect x="523.85" y="474.60" width="6.62" height="6.93" fill="#472a7a"/>
<rect x="523.85" y="481.48" width="6.62" height="6.93" fill="#481d6f"/>
<rect x="523.85" y="488.36" width="6.62" height="6.93" fill="#481467"/>
<rect x="523.85" y="502.12" width="6.62" height="6.93" fill="#481d6f"/>
<rect x="530.42" y="309.48" width="6.62" height="6.93" fill="#472e7c"/>
<rect x="530.42" y="316.36" width="6.62" height="6.93" fill="#38598c"/>
<rect x="530.42" y="323.24" width="6.62" height="6.93" fill="#2e6d8e"/>
<rect x="530.42" y="330.12" width="6.62" height="6.93" fill="#2b758e"/>
<rect x="530.42" y="337.00" width="6.62" height="6.93" fill="#2a778e"/>
<rect x="530.42" y="343.88" width="6.62" height="6.93" fill="#2c718e"/>
<rect x="530.42" y="350.76" width="6.62" height="6.93" fill="#32658e"/>
<rect x="530.42" y="357.64" width="6.62" height="6.93" fill="#365c8d"/>
<rect x="530.42" y="364.52" width="6.62" height="6.93" fill="#375a8c"/>
<rect x="530.42" y="371.40" width="6.62" height="6.93" fill="#38588c"/>
<rect x="530.42" y="378.28" width="6.62" height="6.93" fill="#38588c"/>
<rect x="530.42" y="385.16" width="6.62" height="6.93" fill="#38588c"/>
<rect x="530.42" y="392.04" width="6.62" height="6.93" fill="#39558c"/>
<rect x="530.42" y="398.92" width="6.62" height="6.93" fill="#3c4f8a"/>
<rect x="530.42" y="405.80" width="6.62" height="6.93" fill="#38588c"/>
<rect x="530.42" y="412.68" width="6.62" height="6.93" fill="#3e4a89"/>
<rect x="530.42" y="419.56" width="6.62" height="6.93" fill="#3f4788"/>
<rect x="530.42" y="426.44" width="6.62" height="6.93" fill="#3e4989"/>
<rect x="530.42" y="433.32" width="6.62" height="6.93" fill="#404688"/>
<rect x="530.42" y="440.20" width="6.62" height="6.93" fill="#3f4889"/>
<rect x="530.42" y="447.08" width="6.62" height="6.93" fill="#472a7a"/>
<rect x="530.42" y="453.96" width="6.62" height="6.93" fill="#472e7c"/>
<rect x="530.42" y="460.84" width="6.62" height="6.93" fill="#472e7c"/>
<rect x="530.42" y="467.72" width="6.62" height="6.93" fill="#481d6f"/>
<rect x="530.42" y="474.60" width="6.62" height="6.93" fill="#481467"/>
<rect x="530.42" y="481.48" width="6.62" height="6.93" fill="#440154"/>
<rect x="530.42" y="488.36" width="6.62" height="6.93" fill="#481467"/>
<rect x="530.42" y="495.24" width="6.62" height="6.93" fill="#440154"/>
<rect x="536.99" y="302.60" width="6.62" height="6.93" fill="#482576"/>
<rect x="536.99" y="309.48" width="6.62" height="6.93" fill="#3c508b"/>
<rect x="536.99" y="316.36" width="6.62" height="6.93" fill="#306a8e"/>
<rect x="536.99" y="323.24" width="6.62" height="6.93" fill="#2c738e"/>
<rect x="536.99" y="330.12" width="6.62" height="6.93" fill="#2a788e"/>
<rect x="536.99" y="337.00" width="6.62" height="6.93" fill="#2a778e"/>
<rect x="536.99" y="343.88" width="6.62" height="6.93" fill="#2f6b8e"/>
<rect x="536.99" y="350.76" width="6.62" height="6.93" fill="#34608d"/>
<rect x="536.99" y="357.64" width="6.62" height="6.93" fill="#38598c"/>
<rect x="536.99" y="364.52" width="6.62" height="6.93" fill="#38598c"/>
<rect x="536.99" y="371.40" width="6.62" height="6.93" fill="#39558c"/>
<rect x="536.99" y="378.28" width="6.62" height="6.93" fill="#38598c"/>
<rect x="536.99" y="385.16" width="6.62" height="6.93" fill="#39558c"/>
<rect x="536.99" y="392.04" width="6.62" height="6.93" fill="#3a548c"/>
<rect x="536.99" y="398.92" width="6.62" height="6.93" fill="#3b528b"/>
<rect x="536.99" y="405.80" width="6.62" height="6.93" fill="#433d84"/>
<rect x="536.99" y="412.68" width="6.62" height="6.93" fill="#3f4889"/>
<rect x="536.99" y="419.56" width="6.62" height="6.93" fill="#433d84"/>
<rect x="536.99" y="426.44" width="6.62" height="6.93" fill="#433d84"/>
<rect x="536.99" y="433.32" width="6.62" height="6.93" fill="#433e85"/>
<rect x="536.99" y="440.20" width="6.62" height="6.93" fill="#414287"/>
<rect x="536.99" y="447.08" width="6.62" height="6.93" fill="#443a83"/>
<rect x="536.99" y="453.96" width="6.62" height="6.93" fill="#472a7a"/>
<rect x="536.99" y="460.84" width="6.62" height="6.93" fill="#440154"/>
<rect x="536.99" y="467.72" width="6.62" height="6.93" fill="#481467"/>
<rect x="536.99" y="474.60" width="6.62" height="6.93" fill="#472e7c"/>
<rect x="536.99" y="481.48" width="6.62" height="6.93" fill="#440154"/>
<rect x="536.99" y="488.36" width="6.62" height="6.93" fill="#440154"/>
<rect x="536.99" y="495.24" width="6.62" height="6.93" fill="#481d6f"/>
<rect x="543.56" y="295.72" width="6.62" height="6.93" fill="#440154"/>
<rect x="543.56" y="302.60" width="6.62" height="6.93" fill="#3a548c"/>
<rect x="543.56" y="309.48" width="6.62" height="6.93" fill="#306a8e"/>
<rect x="543.56" y="316.36" width="6.62" height="6.93" fill="#2b758e"/>
<rect x="543.56" y="323.24" width="6.62" height="6.93" fill="#29798e"/>
<rect x="543.56" y="330.12" width="6.62" height="6.93" fill="#2a778e"/>
<rect x="543.56" y="337.00" width="6.62" height="6.93" fill="#2e6e8e"/>
<rect x="543.56" y="343.88" width="6.62" height="6.93" fill="#33638d"/>
<rect x="543.56" y="350.76" width="6.62" height="6.93" fill="#39568c"/>
<rect x="543.56" y="357.64" width="6.62" height="6.93" fill="#38588c"/>
<rect x="543.56" y="364.52" width="6.62" height="6.93" fill="#355e8d"/>
<rect x="543.56" y="371.40" width="6.62" height="6.93" fill="#3a548c"/>
<rect x="543.56" y="378.28" width="6.62" height="6.93" fill="#375b8d"/>
<rect x="543.56" y="385.16" width="6.62" height="6.93" fill="#39568c"/>
<rect x="543.56" y="392.04" width="6.62" height="6.93" fill="#3c4f8a"/>
<rect x="543.56" y="398.92" width="6.62" height="6.93" fill="#3d4e8a"/>
<rect x="543.56" y="405.80" width="6.62" height="6.93" fill="#3b518b"/>
<rect x="543.56" y="412.68" width="6.62" height="6.93" fill="#424186"/>
<rect x="543.56" y="419.56" width="6.62" height="6.93" fill="#3e4989"/>
<rect x="543.56" y="426.44" width="6.62" height="6.93" fill="#433d84"/>
<rect x="543.56" y="433.32" width="6.62" height="6.93" fill="#46327e"/>
<rect x="543.56" y="440.20" width="6.62" height="6.93" fill="#46327e"/>
<rect x="543.56" y="447.08" width="6.62" height="6.93" fill="#472e7c"/>
<rect x="543.56" y="453.96" width="6.62" height="6.93" fill="#472a7a"/>
<rect x="543.56" y="460.84" width="6.62" height="6.93" fill="#481467"/>
<rect x="543.56" y="467.72" width="6.62" height="6.93" fill="#482576"/>
<rect x="543.56" y="474.60" width="6.62" height="6.93" fill="#440154"/>
<rect x="550.13" y="295.72" width="6.62" height="6.93" fill="#443a83"/>
<rect x="550.13" y="302.60" width="6.62" height="6.93" fill="#355f8d"/>
<rect x="550.13" y="309.48" width="6.62" height="6.93" fill="#2c718e"/>
<rect x="550.13" y="316.36" width="6.62" height="6.93" fill="#2b748e"/>
<rect x="550.13" y="323.24" width="6.62" height="6.93" fill="#2b758e"/>
<rect x="550.13" y="330.12" width="6.62" height="6.93" fill="#2c718e"/>
<rect x="550.13" y="337.00" width="6.62" height="6.93" fill="#306a8e"/>
<rect x="550.13" y="343.88" width="6.62" height="6.93" fill="#34618d"/>
<rect x="550.13" y="350.76" width="6.62" height="6.93" fill="#365d8d"/>
<rect x="550.13" y="357.64" width="6.62" height="6.93" fill="#3e4a89"/>
<rect x="550.13" y="364.52" width="6.62" height="6.93" fill="#3a538b"/>
<rect x="550.13" y="371.40" width="6.62" height="6.93" fill="#3d4d8a"/>
<rect x="550.13" y="378.28" width="6.62" height="6.93" fill="#39568c"/>
<rect x="550.13" y="385.16" width="6.62" height="6.93" fill="#3b518b"/>
<rect x="550.13" y="392.04" width="6.62" height="6.93" fill="#3a538b"/>
<rect x="550.13" y="398.92" width="6.62" height="6.93" fill="#3c4f8a"/>
<rect x="550.13" y="405.80" width="6.62" height="6.93" fill="#424186"/>
<rect x="550.13" y="412.68" width="6.62" height="6.93" fill="#433d84"/>
<rect x="550.13" y="419.56" width="6.62" height="6.93" fill="#424086"/>
<rect x="550.13" y="426.44" width="6.62" height="6.93" fill="#46327e"/>
<rect x="550.13" y="433.32" width="6.62" height="6.93" fill="#472a7a"/>
<rect x="550.13" y="440.20" width="6.62" height="6.93" fill="#481467"/>
<rect x="550.13" y="447.08" width="6.62" height="6.93" fill="#482576"/>
<rect x="550.13" y="453.96" width="6.62" height="6.93" fill="#472e7c"/>
<rect x="550.13" y="481.48" width="6.62" height="6.93" fill="#481467"/>
<rect x="556.70" y="288.84" width="6.62" height="6.93" fill="#481467"/>
<rect x="556.70" y="295.72" width="6.62" height="6.93" fill="#3e4c8a"/>
<rect x="556.70" y="302.60" width="6.62" height="6.93" fill="#2f6c8e"/>
<rect x="556.70" y="309.48" width="6.62" height="6.93" fill="#2c718e"/>
<rect x="556.70" y="316.36" width="6.62" height="6.93" fill="#2b748e"/>
<rect x="556.70" y="323.24" width="6.62" height="6.93" fill="#2a768e"/>
<rect x="556.70" y="330.12" width="6.62" height="6.93" fill="#2e6f8e"/>
<rect x="556.70" y="337.00" width="6.62" height="6.93" fill="#30698e"/>
<rect x="556.70" y="343.88" width="6.62" height="6.93" fill="#375a8c"/>
<rect x="556.70" y="350.76" width="6.62" height="6.93" fill="#3c508b"/>
<rect x="556.70" y="357.64" width="6.62" height="6.93" fill="#3a548c"/>
<rect x="556.70" y="364.52" width="6.62" height="6.93" fill="#3c508b"/>
<rect x="556.70" y="371.40" width="6.62" height="6.93" fill="#3e4989"/>
<rect x="556.70" y="378.28" width="6.62" height="6.93" fill="#3e4989"/>
<rect x="556.70" y="385.16" width="6.62" height="6.93" fill="#3c4f8a"/>
<rect x="556.70" y="392.04" width="6.62" height="6.93" fill="#404588"/>
<rect x="556.70" y="398.92" width="6.62" height="6.93" fill="#404688"/>
<rect x="556.70" y="405.80" width="6.62" height="6.93" fill="#414287"/>
<rect x="556.70" y="412.68" width="6.62" height="6.93" fill="#433e85"/>
<rect x="556.70" y="419.56" width="6.62" height="6.93" fill="#472a7a"/>
<rect x="556.70" y="426.44" width="6.62" height="6.93" fill="#443a83"/>
<rect x="556.70" y="433.32" width="6.62" height="6.93" fill="#472e7c"/>
<rect x="556.70" y="440.20" width="6.62" height="6.93" fill="#481d6f"/>
<rect x="556.70" y="447.08" width="6.62" height="6.93" fill="#440154"/>
<rect x="556.70" y="453.96" width="6.62" height="6.93" fill="#481467"/>
<rect x="556.70" y="467.72" width="6.62" height="6.93" fill="#440154"/>
<rect x="556.70" y="474.60" width="6.62" height="6.93" fill="#440154"/>
<rect x="563.27" y="288.84" width="6.62" height="6.93" fill="#453581"/>
<rect x="563.27" y="295.72" width="6.62" height="6.93" fill="#355f8d"/>
<rect x="563.27" y="302.60" width="6.62" height="6.93" fill="#2e6e8e"/>
<rect x="563.27" y="309.48" width="6.62" height="6.93" fill="#2b748e"/>
<rect x="563.27" y="316.36" width="6.62" height="6.93" fill="#2b748e"/>
<rect x="563.27" y="323.24" width="6.62" height="6.93" fill="#2e6f8e"/>
<rect x="563.27" y="330.12" width="6.62" height="6.93" fill="#31678e"/>
<rect x="563.27" y="337.00" width="6.62" height="6.93" fill="#355e8d"/>
<rect x="563.27" y="343.88" width="6.62" height="6.93" fill="#39558c"/>
<rect x="563.27" y="350.76" width="6.62" height="6.93" fill="#3d4d8a"/>
<rect x="563.27" y="357.64" width="6.62" height="6.93" fill="#3e4c8a"/>
<rect x="563.27" y="364.52" width="6.62" height="6.93" fill="#414287"/>
<rect x="563.27" y="371.40" width="6.62" height="6.93" fill="#3c4f8a"/>
<rect x="563.27" y="378.28" width="6.62" height="6.93" fill="#424186"/>
<rect x="563.27" y="385.16" width="6.62" height="6.93" fill="#433e85"/>
<rect x="563.27" y="392.04" width="6.62" height="6.93" fill="#46327e"/>
<rect x="563.27" y="398.92" width="6.62" height="6.93" fill="#472a7a"/>
<rect x="563.27" y="405.80" width="6.62" height="6.93" fill="#404688"/>
<rect x="563.27" y="412.68" width="6.62" height="6.93" fill="#424186"/>
<rect x="563.27" y="419.56" width="6.62" height="6.93" fill="#482576"/>
<rect x="563.27" y="426.44" width="6.62" height="6.93" fill="#433d84"/>
<rect x="563.27" y="433.32" width="6.62" height="6.93" fill="#481d6f"/>
<rect x="563.27" y="440.20" width="6.62" height="6.93" fill="#481d6f"/>
<rect x="563.27" y="447.08" width="6.62" height="6.93" fill="#440154"/>
<rect x="563.27" y="453.96" width="6.62" height="6.93" fill="#481467"/>
<rect x="563.27" y="460.84" width="6.62" height="6.93" fill="#440154"/>
<rect x="569.84" y="281.96" width="6.62" height="6.93" fill="#472e7c"/>
<rect x="569.84" y="288.84" width="6.62" height="6.93" fill="#38588c"/>
<rect x="569.84" y="295.72" width="6.62" height="6.93" fill="#31688e"/>
<rect x="569.84" y="302.60" width="6.62" height="6.93" fill="#2c718e"/>
<rect x="569.84" y="309.48" width="6.62" height="6.93" fill="#2b748e"/>
<rect x="569.84" y="316.36" width="6.62" height="6.93" fill="#2d708e"/>
<rect x="569.84" y="323.24" width="6.62" height="6.93" fill="#2f6b8e"/>
<rect x="569.84" y="330.12" width="6.62" height="6.93" fill="#33638d"/>
<rect x="569.84" y="337.00" width="6.62" height="6.93" fill="#38598c"/>
<rect x="569.84" y="343.88" width="6.62" height="6.93" fill="#3e4989"/>
<rect x="569.84" y="350.76" width="6.62" height="6.93" fill="#3f4889"/>
<rect x="569.84" y="357.64" width="6.62" height="6.93" fill="#3c4f8a"/>
<rect x="569.84" y="364.52" width="6.62" height="6.93" fill="#433d84"/>
<rect x="569.84" y="371.40" width="6.62" height="6.93" fill="#3d4e8a"/>
<rect x="569.84" y="378.28" width="6.62" height="6.93" fill="#433d84"/>
<rect x="569.84" y="385.16" width="6.62" height="6.93" fill="#3e4a89"/>
<rect x="569.84" y="392.04" width="6.62" height="6.93" fill="#424186"/>
<rect x="569.84" y="398.92" width="6.62" height="6.93" fill="#46327e"/>
<rect x="569.84" y="405.80" width="6.62" height="6.93" fill="#424186"/>
<rect x="569.84" y="412.68" width="6.62" height="6.93" fill="#453581"/>
<rect x="569.84" y="419.56" width="6.62" height="6.93" fill="#472e7c"/>
<rect x="569.84" y="426.44" width="6.62" height="6.93" fill="#472a7a"/>
<rect x="569.84" y="433.32" width="6.62" height="6.93" fill="#482576"/>
<rect x="569.84" y="447.08" width="6.62" height="6.93" fill="#481467"/>
<rect x="569.84" y="453.96" width="6.62" height="6.93" fill="#440154"/>
<rect x="576.41" y="275.08" width="6.62" height="6.93" fill="#46327e"/>
<rect x="576.41" y="281.96" width="6.62" height="6.93" fill="#39568c"/>
<rect x="576.41" y="288.84" width="6.62" height="6.93" fill="#32658e"/>
<rect x="576.41" y="295.72" width="6.62" height="6.93" fill="#2e6e8e"/>
<rect x="576.41" y="302.60" width="6.62" height="6.93" fill="#2c738e"/>
<rect x="576.41" y="309.48" width="6.62" height="6.93" fill="#2e6d8e"/>
<rect x="576.41" y="316.36" width="6.62" height="6.93" fill="#31688e"/>
<rect x="576.41" y="323.24" width="6.62" height="6.93" fill="#34608d"/>
<rect x="576.41" y="330.12" width="6.62" height="6.93" fill="#375b8d"/>
<rect x="576.41" y="337.00" width="6.62" height="6.93" fill="#3c4f8a"/>
<rect x="576.41" y="343.88" width="6.62" height="6.93" fill="#3f4889"/>
<rect x="576.41" y="350.76" width="6.62" height="6.93" fill="#39568c"/>
<rect x="576.41" y="357.64" width="6.62" height="6.93" fill="#3c4f8a"/>
<rect x="576.41" y="364.52" width="6.62" height="6.93" fill="#3d4e8a"/>
<rect x="576.41" y="371.40" width="6.62" height="6.93" fill="#3f4889"/>
<rect x="576.41" y="378.28" width="6.62" height="6.93" fill="#3e4c8a"/>
<rect x="576.41" y="385.16" width="6.62" height="6.93" fill="#424186"/>
<rect x="576.41" y="392.04" width="6.62" height="6.93" fill="#433d84"/>
<rect x="576.41" y="398.92" width="6.62" height="6.93" fill="#472e7c"/>
<rect x="576.41" y="405.80" width="6.62" height="6.93" fill="#481467"/>
<rect x="576.41" y="412.68" width="6.62" height="6.93" fill="#481467"/>
<rect x="576.41" y="419.56" width="6.62" height="6.93" fill="#482576"/>
<rect x="576.41" y="426.44" width="6.62" height="6.93" fill="#440154"/>
<rect x="576.41" y="440.20" width="6.62" height="6.93" fill="#481467"/>
<rect x="582.98" y="268.20" width="6.62" height="6.93" fill="#481d6f"/>
<rect x="582.98" y="275.08" width="6.62" height="6.93" fill="#3c508b"/>
<rect x="582.98" y="281.96" width="6.62" height="6.93" fill="#32648e"/>
<rect x="582.98" y="288.84" width="6.62" height="6.93" fill="#2e6e8e"/>
<rect x="582.98" y="295.72" width="6.62" height="6.93" fill="#2e6f8e"/>
<rect x="582.98" y="302.60" width="6.62" height="6.93" fill="#2e6d8e"/>
<rect x="582.98" y="309.48" width="6.62" height="6.93" fill="#32648e"/>
<rect x="582.98" y="316.36" width="6.62" height="6.93" fill="#32658e"/>
<rect x="582.98" y="323.24" width="6.62" height="6.93" fill="#365c8d"/>
<rect x="582.98" y="330.12" width="6.62" height="6.93" fill="#3a548c"/>
<rect x="582.98" y="337.00" width="6.62" height="6.93" fill="#3b518b"/>
<rect x="582.98" y="343.88" width="6.62" height="6.93" fill="#3e4a89"/>
<rect x="582.98" y="350.76" width="6.62" height="6.93" fill="#404688"/>
<rect x="582.98" y="357.64" width="6.62" height="6.93" fill="#424186"/>
<rect x="582.98" y="364.52" width="6.62" height="6.93" fill="#433e85"/>
<rect x="582.98" y="371.40" width="6.62" height="6.93" fill="#453882"/>
<rect x="582.98" y="378.28" width="6.62" height="6.93" fill="#404688"/>
<rect x="582.98" y="385.16" width="6.62" height="6.93" fill="#472a7a"/>
<rect x="582.98" y="392.04" width="6.62" height="6.93" fill="#46327e"/>
<rect x="582.98" y="398.92" width="6.62" height="6.93" fill="#472a7a"/>
<rect x="582.98" y="405.80" width="6.62" height="6.93" fill="#481467"/>
<rect x="582.98" y="412.68" width="6.62" height="6.93" fill="#482576"/>
<rect x="582.98" y="419.56" width="6.62" height="6.93" fill="#440154"/>
<rect x="582.98" y="426.44" width="6.62" height="6.93" fill="#440154"/>
<rect x="589.55" y="268.20" width="6.62" height="6.93" fill="#472a7a"/>
<rect x="589.55" y="275.08" width="6.62" height="6.93" fill="#39568c"/>
<rect x="589.55" y="281.96" width="6.62" height="6.93" fill="#31688e"/>
<rect x="589.55" y="288.84" width="6.62" height="6.93" fill="#2e6e8e"/>
<rect x="589.55" y="295.72" width="6.62" height="6.93" fill="#2e6f8e"/>
<rect x="589.55" y="302.60" width="6.62" height="6.93" fill="#30698e"/>
<rect x="589.55" y="309.48" width="6.62" height="6.93" fill="#34618d"/>
<rect x="589.55" y="316.36" width="6.62" height="6.93" fill="#355f8d"/>
<rect x="589.55" y="323.24" width="6.62" height="6.93" fill="#375a8c"/>
<rect x="589.55" y="330.12" width="6.62" height="6.93" fill="#3e4c8a"/>
<rect x="589.55" y="337.00" width="6.62" height="6.93" fill="#433e85"/>
<rect x="589.55" y="343.88" width="6.62" height="6.93" fill="#3b518b"/>
<rect x="589.55" y="350.76" width="6.62" height="6.93" fill="#433d84"/>
<rect x="589.55" y="357.64" width="6.62" height="6.93" fill="#46327e"/>
<rect x="589.55" y="364.52" width="6.62" height="6.93" fill="#424086"/>
<rect x="589.55" y="371.40" width="6.62" height="6.93" fill="#472a7a"/>
<rect x="589.55" y="378.28" width="6.62" height="6.93" fill="#482576"/>
<rect x="589.55" y="385.16" width="6.62" height="6.93" fill="#472e7c"/>
<rect x="589.55" y="392.04" width="6.62" height="6.93" fill="#482576"/>
<rect x="589.55" y="398.92" width="6.62" height="6.93" fill="#472a7a"/>
<rect x="589.55" y="405.80" width="6.62" height="6.93" fill="#440154"/>
<rect x="589.55" y="412.68" width="6.62" height="6.93" fill="#481d6f"/>
<rect x="589.55" y="419.56" width="6.62" height="6.93" fill="#440154"/>
<rect x="589.55" y="426.44" width="6.62" height="6.93" fill="#440154"/>
<rect x="596.12" y="261.32" width="6.62" height="6.93" fill="#440154"/>
<rect x="596.12" y="268.20" width="6.62" height="6.93" fill="#39558c"/>
<rect x="596.12" y="275.08" width="6.62" height="6.93" fill="#33638d"/>
<rect x="596.12" y="281.96" width="6.62" height="6.93" fill="#31688e"/>
<rect x="596.12" y="288.84" width="6.62" height="6.93" fill="#2d708e"/>
<rect x="596.12" y="295.72" width="6.62" height="6.93" fill="#32658e"/>
<rect x="596.12" y="302.60" width="6.62" height="6.93" fill="#365d8d"/>
<rect x="596.12" y="309.48" width="6.62" height="6.93" fill="#375b8d"/>
<rect x="596.12" y="316.36" width="6.62" height="6.93" fill="#365d8d"/>
<rect x="596.12" y="323.24" width="6.62" height="6.93" fill="#3a548c"/>
<rect x="596.12" y="330.12" width="6.62" height="6.93" fill="#3d4d8a"/>
<rect x="596.12" y="337.00" width="6.62" height="6.93" fill="#433e85"/>
<rect x="596.12" y="343.88" width="6.62" height="6.93" fill="#424086"/>
<rect x="596.12" y="350.76" width="6.62" height="6.93" fill="#3e4989"/>
<rect x="596.12" y="357.64" width="6.62" height="6.93" fill="#424186"/>
<rect x="596.12" y="364.52" width="6.62" height="6.93" fill="#453882"/>
<rect x="596.12" y="371.40" width="6.62" height="6.93" fill="#46327e"/>
<rect x="596.12" y="378.28" width="6.62" height="6.93" fill="#453581"/>
<rect x="596.12" y="385.16" width="6.62" height="6.93" fill="#453581"/>
<rect x="596.12" y="392.04" width="6.62" height="6.93" fill="#481d6f"/>
<rect x="596.12" y="398.92" width="6.62" height="6.93" fill="#481d6f"/>
<rect x="596.12" y="405.80" width="6.62" height="6.93" fill="#440154"/>
<rect x="596.12" y="412.68" width="6.62" height="6.93" fill="#440154"/>
<rect x="596.12" y="419.56" width="6.62" height="6.93" fill="#440154"/>
<rect x="602.69" y="261.32" width="6.62" height="6.93" fill="#424086"/>
<rect x="602.69" y="268.20" width="6.62" height="6.93" fill="#355e8d"/>
<rect x="602.69" y="275.08" width="6.62" height="6.93" fill="#31668e"/>
<rect x="602.69" y="281.96" width="6.62" height="6.93" fill="#2f6b8e"/>
<rect x="602.69" y="288.84" width="6.62" height="6.93" fill="#33638d"/>
<rect x="602.69" y="295.72" width="6.62" height="6.93" fill="#38598c"/>
<rect x="602.69" y="302.60" width="6.62" height="6.93" fill="#3b528b"/>
<rect x="602.69" y="309.48" width="6.62" height="6.93" fill="#3a538b"/>
<rect x="602.69" y="316.36" width="6.62" height="6.93" fill="#3b518b"/>
<rect x="602.69" y="323.24" width="6.62" height="6.93" fill="#424186"/>
<rect x="602.69" y="330.12" width="6.62" height="6.93" fill="#424086"/>
<rect x="602.69" y="337.00" width="6.62" height="6.93" fill="#414287"/>
<rect x="602.69" y="343.88" width="6.62" height="6.93" fill="#424186"/>
<rect x="602.69" y="350.76" width="6.62" height="6.93" fill="#443a83"/>
<rect x="602.69" y="357.64" width="6.62" height="6.93" fill="#433e85"/>
<rect x="602.69" y="364.52" width="6.62" height="6.93" fill="#453882"/>
<rect x="602.69" y="378.28" width="6.62" height="6.93" fill="#482576"/>
<rect x="602.69" y="385.16" width="6.62" height="6.93" fill="#481467"/>
<rect x="609.26" y="254.44" width="6.62" height="6.93" fill="#482576"/>
<rect x="609.26" y="261.32" width="6.62" height="6.93" fill="#39558c"/>
<rect x="609.26" y="268.20" width="6.62" height="6.93" fill="#31668e"/>
<rect x="609.26" y="275.08" width="6.62" height="6.93" fill="#31668e"/>
<rect x="609.26" y="281.96" width="6.62" height="6.93" fill="#34618d"/>
<rect x="609.26" y="288.84" width="6.62" height="6.93" fill="#3a548c"/>
<rect x="609.26" y="295.72" width="6.62" height="6.93" fill="#3d4e8a"/>
<rect x="609.26" y="302.60" width="6.62" height="6.93" fill="#3e4989"/>
<rect x="609.26" y="309.48" width="6.62" height="6.93" fill="#3b518b"/>
<rect x="609.26" y="316.36" width="6.62" height="6.93" fill="#3e4989"/>
<rect x="609.26" y="323.24" width="6.62" height="6.93" fill="#3d4e8a"/>
<rect x="609.26" y="330.12" width="6.62" height="6.93" fill="#414287"/>
<rect x="609.26" y="337.00" width="6.62" height="6.93" fill="#404588"/>
<rect x="609.26" y="343.88" width="6.62" height="6.93" fill="#482576"/>
<rect x="609.26" y="350.76" width="6.62" height="6.93" fill="#453581"/>
<rect x="609.26" y="357.64" width="6.62" height="6.93" fill="#453581"/>
<rect x="609.26" y="364.52" width="6.62" height="6.93" fill="#472e7c"/>
<rect x="609.26" y="371.40" width="6.62" height="6.93" fill="#472a7a"/>
<rect x="609.26" y="385.16" width="6.62" height="6.93" fill="#481467"/>
<rect x="609.26" y="392.04" width="6.62" height="6.93" fill="#440154"/>
<rect x="615.83" y="247.56" width="6.62" height="6.93" fill="#453882"/>
<rect x="615.83" y="254.44" width="6.62" height="6.93" fill="#38588c"/>
<rect x="615.83" y="261.32" width="6.62" height="6.93" fill="#34618d"/>
<rect x="615.83" y="268.20" width="6.62" height="6.93" fill="#31668e"/>
<rect x="615.83" y="275.08" width="6.62" height="6.93" fill="#3a548c"/>
<rect x="615.83" y="281.96" width="6.62" height="6.93" fill="#424186"/>
<rect x="615.83" y="288.84" width="6.62" height="6.93" fill="#433e85"/>
<rect x="615.83" y="295.72" width="6.62" height="6.93" fill="#424186"/>
<rect x="615.83" y="302.60" width="6.62" height="6.93" fill="#404588"/>
<rect x="615.83" y="309.48" width="6.62" height="6.93" fill="#453581"/>
<rect x="615.83" y="316.36" width="6.62" height="6.93" fill="#424086"/>
<rect x="615.83" y="323.24" width="6.62" height="6.93" fill="#424186"/>
<rect x="615.83" y="330.12" width="6.62" height="6.93" fill="#453882"/>
<rect x="615.83" y="337.00" width="6.62" height="6.93" fill="#433d84"/>
<rect x="615.83" y="343.88" width="6.62" height="6.93" fill="#472e7c"/>
<rect x="615.83" y="350.76" width="6.62" height="6.93" fill="#482576"/>
<rect x="615.83" y="357.64" width="6.62" height="6.93" fill="#482576"/>
<rect x="615.83" y="364.52" width="6.62" height="6.93" fill="#472e7c"/>
<rect x="615.83" y="371.40" width="6.62" height="6.93" fill="#481467"/>
<rect x="615.83" y="378.28" width="6.62" height="6.93" fill="#440154"/>
<rect x="615.83" y="385.16" width="6.62" height="6.93" fill="#440154"/>
<rect x="615.83" y="398.92" width="6.62" height="6.93" fill="#440154"/>
<rect x="622.40" y="240.68" width="6.62" height="6.93" fill="#453581"/>
<rect x="622.40" y="247.56" width="6.62" height="6.93" fill="#39568c"/>
<rect x="622.40" y="254.44" width="6.62" height="6.93" fill="#355f8d"/>
<rect x="622.40" y="261.32" width="6.62" height="6.93" fill="#31668e"/>
<rect x="622.40" y="268.20" width="6.62" height="6.93" fill="#3d4d8a"/>
<rect x="622.40" y="275.08" width="6.62" height="6.93" fill="#482576"/>
<rect x="622.40" y="281.96" width="6.62" height="6.93" fill="#472a7a"/>
<rect x="622.40" y="288.84" width="6.62" height="6.93" fill="#414287"/>
<rect x="622.40" y="295.72" width="6.62" height="6.93" fill="#433e85"/>
<rect x="622.40" y="302.60" width="6.62" height="6.93" fill="#472e7c"/>
<rect x="622.40" y="309.48" width="6.62" height="6.93" fill="#443a83"/>
<rect x="622.40" y="316.36" width="6.62" height="6.93" fill="#3f4788"/>
<rect x="622.40" y="323.24" width="6.62" height="6.93" fill="#443a83"/>
<rect x="622.40" y="330.12" width="6.62" height="6.93" fill="#46327e"/>
<rect x="622.40" y="337.00" width="6.62" height="6.93" fill="#443a83"/>
<rect x="622.40" y="343.88" width="6.62" height="6.93" fill="#440154"/>
<rect x="622.40" y="350.76" width="6.62" height="6.93" fill="#472e7c"/>
<rect x="622.40" y="364.52" width="6.62" height="6.93" fill="#440154"/>
<rect x="622.40" y="371.40" width="6.62" height="6.93" fill="#481d6f"/>
<rect x="628.97" y="233.80" width="6.62" height="6.93" fill="#482576"/>
<rect x="628.97" y="240.68" width="6.62" height="6.93" fill="#3a538b"/>
<rect x="628.97" y="247.56" width="6.62" height="6.93" fill="#355f8d"/>
<rect x="628.97" y="254.44" width="6.62" height="6.93" fill="#33628d"/>
<rect x="628.97" y="261.32" width="6.62" height="6.93" fill="#3c4f8a"/>
<rect x="628.97" y="268.20" width="6.62" height="6.93" fill="#424186"/>
<rect x="628.97" y="275.08" width="6.62" height="6.93" fill="#433e85"/>
<rect x="628.97" y="281.96" width="6.62" height="6.93" fill="#404688"/>
<rect x="628.97" y="288.84" width="6.62" height="6.93" fill="#453581"/>
<rect x="628.97" y="295.72" width="6.62" height="6.93" fill="#404588"/>
<rect x="628.97" y="302.60" width="6.62" height="6.93" fill="#433d84"/>
<rect x="628.97" y="309.48" width="6.62" height="6.93" fill="#443a83"/>
<rect x="628.97" y="316.36" width="6.62" height="6.93" fill="#443a83"/>
<rect x="628.97" y="323.24" width="6.62" height="6.93" fill="#443a83"/>
<rect x="628.97" y="330.12" width="6.62" height="6.93" fill="#482576"/>
<rect x="628.97" y="337.00" width="6.62" height="6.93" fill="#481d6f"/>
<rect x="628.97" y="343.88" width="6.62" height="6.93" fill="#453882"/>
<rect x="628.97" y="371.40" width="6.62" height="6.93" fill="#440154"/>
<rect x="635.54" y="226.92" width="6.62" height="6.93" fill="#453581"/>
<rect x="635.54" y="233.80" width="6.62" height="6.93" fill="#39558c"/>
<rect x="635.54" y="240.68" width="6.62" height="6.93" fill="#365c8d"/>
<rect x="635.54" y="247.56" width="6.62" height="6.93" fill="#365c8d"/>
<rect x="635.54" y="254.44" width="6.62" height="6.93" fill="#433d84"/>
<rect x="635.54" y="261.32" width="6.62" height="6.93" fill="#453581"/>
<rect x="635.54" y="268.20" width="6.62" height="6.93" fill="#453882"/>
<rect x="635.54" y="275.08" width="6.62" height="6.93" fill="#472e7c"/>
<rect x="635.54" y="281.96" width="6.62" height="6.93" fill="#453882"/>
<rect x="635.54" y="288.84" width="6.62" height="6.93" fill="#46327e"/>
<rect x="635.54" y="295.72" width="6.62" height="6.93" fill="#482576"/>
<rect x="635.54" y="302.60" width="6.62" height="6.93" fill="#453882"/>
<rect x="635.54" y="309.48" width="6.62" height="6.93" fill="#482576"/>
<rect x="635.54" y="316.36" width="6.62" height="6.93" fill="#46327e"/>
<rect x="635.54" y="323.24" width="6.62" height="6.93" fill="#440154"/>
<rect x="635.54" y="330.12" width="6.62" height="6.93" fill="#472e7c"/>
<rect x="635.54" y="337.00" width="6.62" height="6.93" fill="#481d6f"/>
<rect x="635.54" y="343.88" width="6.62" height="6.93" fill="#481467"/>
<rect x="635.54" y="350.76" width="6.62" height="6.93" fill="#440154"/>
<rect x="642.11" y="220.04" width="6.62" height="6.93" fill="#481467"/>
<rect x="642.11" y="226.92" width="6.62" height="6.93" fill="#3c4f8a"/>
<rect x="642.11" y="233.80" width="6.62" height="6.93" fill="#375b8d"/>
<rect x="642.11" y="240.68" width="6.62" height="6.93" fill="#3a538b"/>
<rect x="642.11" y="247.56" width="6.62" height="6.93" fill="#481467"/>
<rect x="642.11" y="254.44" width="6.62" height="6.93" fill="#472a7a"/>
<rect x="642.11" y="261.32" width="6.62" height="6.93" fill="#433d84"/>
<rect x="642.11" y="268.20" width="6.62" height="6.93" fill="#472e7c"/>
<rect x="642.11" y="275.08" width="6.62" height="6.93" fill="#433e85"/>
<rect x="642.11" y="281.96" width="6.62" height="6.93" fill="#482576"/>
<rect x="642.11" y="288.84" width="6.62" height="6.93" fill="#453581"/>
<rect x="642.11" y="295.72" width="6.62" height="6.93" fill="#46327e"/>
<rect x="642.11" y="302.60" width="6.62" height="6.93" fill="#472e7c"/>
<rect x="642.11" y="309.48" width="6.62" height="6.93" fill="#453581"/>
<rect x="642.11" y="316.36" width="6.62" height="6.93" fill="#481d6f"/>
<rect x="642.11" y="323.24" width="6.62" height="6.93" fill="#482576"/>
<rect x="642.11" y="330.12" width="6.62" height="6.93" fill="#440154"/>
<rect x="642.11" y="337.00" width="6.62" height="6.93" fill="#440154"/>
<rect x="642.11" y="343.88" width="6.62" height="6.93" fill="#481d6f"/>
<rect x="648.68" y="213.16" width="6.62" height="6.93" fill="#481d6f"/>
<rect x="648.68" y="220.04" width="6.62" height="6.93" fill="#453882"/>
<rect x="648.68" y="226.92" width="6.62" height="6.93" fill="#39558c"/>
<rect x="648.68" y="233.80" width="6.62" height="6.93" fill="#375b8d"/>
<rect x="648.68" y="240.68" width="6.62" height="6.93" fill="#481d6f"/>
<rect x="648.68" y="247.56" width="6.62" height="6.93" fill="#481d6f"/>
<rect x="648.68" y="254.44" width="6.62" height="6.93" fill="#472e7c"/>
<rect x="648.68" y="261.32" width="6.62" height="6.93" fill="#481d6f"/>
<rect x="648.68" y="268.20" width="6.62" height="6.93" fill="#472e7c"/>
<rect x="648.68" y="275.08" width="6.62" height="6.93" fill="#472e7c"/>
<rect x="648.68" y="281.96" width="6.62" height="6.93" fill="#440154"/>
<rect x="648.68" y="288.84" width="6.62" height="6.93" fill="#472a7a"/>
<rect x="648.68" y="295.72" width="6.62" height="6.93" fill="#481467"/>
<rect x="648.68" y="302.60" width="6.62" height="6.93" fill="#481d6f"/>
<rect x="648.68" y="309.48" width="6.62" height="6.93" fill="#440154"/>
<rect x="648.68" y="316.36" width="6.62" height="6.93" fill="#481d6f"/>
<rect x="648.68" y="323.24" width="6.62" height="6.93" fill="#440154"/>
<rect x="648.68" y="330.12" width="6.62" height="6.93" fill="#440154"/>
<rect x="648.68" y="337.00" width="6.62" height="6.93" fill="#440154"/>
<rect x="648.68" y="343.88" width="6.62" height="6.93" fill="#440154"/>
<rect x="655.25" y="206.28" width="6.62" height="6.93" fill="#481d6f"/>
<rect x="655.25" y="213.16" width="6.62" height="6.93" fill="#404688"/>
<rect x="655.25" y="220.04" width="6.62" height="6.93" fill="#365c8d"/>
<rect x="655.25" y="226.92" width="6.62" height="6.93" fill="#3b528b"/>
<rect x="655.25" y="233.80" width="6.62" height="6.93" fill="#481d6f"/>
<rect x="655.25" y="240.68" width="6.62" height="6.93" fill="#481d6f"/>
<rect x="655.25" y="247.56" width="6.62" height="6.93" fill="#481467"/>
<rect x="655.25" y="254.44" width="6.62" height="6.93" fill="#472a7a"/>
<rect x="655.25" y="261.32" width="6.62" height="6.93" fill="#481d6f"/>
<rect x="655.25" y="268.20" width="6.62" height="6.93" fill="#481467"/>
<rect x="655.25" y="275.08" width="6.62" height="6.93" fill="#481467"/>
<rect x="655.25" y="281.96" width="6.62" height="6.93" fill="#481d6f"/>
<rect x="655.25" y="288.84" width="6.62" height="6.93" fill="#481467"/>
<rect x="655.25" y="302.60" width="6.62" height="6.93" fill="#440154"/>
<rect x="655.25" y="316.36" width="6.62" height="6.93" fill="#440154"/>
<rect x="661.82" y="192.52" width="6.62" height="6.93" fill="#440154"/>
<rect x="661.82" y="199.40" width="6.62" height="6.93" fill="#472a7a"/>
<rect x="661.82" y="206.28" width="6.62" height="6.93" fill="#38588c"/>
<rect x="661.82" y="213.16" width="6.62" height="6.93" fill="#39558c"/>
<rect x="661.82" y="220.04" width="6.62" height="6.93" fill="#433d84"/>
<rect x="661.82" y="226.92" width="6.62" height="6.93" fill="#482576"/>
<rect x="661.82" y="233.80" width="6.62" height="6.93" fill="#472a7a"/>
<rect x="661.82" y="240.68" width="6.62" height="6.93" fill="#481467"/>
<rect x="661.82" y="247.56" width="6.62" height="6.93" fill="#481467"/>
<rect x="661.82" y="254.44" width="6.62" height="6.93" fill="#481d6f"/>
<rect x="661.82" y="261.32" width="6.62" height="6.93" fill="#481d6f"/>
<rect x="661.82" y="268.20" width="6.62" height="6.93" fill="#440154"/>
<rect x="661.82" y="275.08" width="6.62" height="6.93" fill="#482576"/>
<rect x="661.82" y="281.96" width="6.62" height="6.93" fill="#440154"/>
<rect x="661.82" y="302.60" width="6.62" height="6.93" fill="#440154"/>
<rect x="661.82" y="309.48" width="6.62" height="6.93" fill="#481467"/>
<rect x="661.82" y="316.36" width="6.62" height="6.93" fill="#440154"/>
<rect x="661.82" y="323.24" width="6.62" height="6.93" fill="#440154"/>
<rect x="668.39" y="192.52" width="6.62" height="6.93" fill="#424086"/>
<rect x="668.39" y="199.40" width="6.62" height="6.93" fill="#3e4c8a"/>
<rect x="668.39" y="206.28" width="6.62" height="6.93" fill="#375a8c"/>
<rect x="668.39" y="213.16" width="6.62" height="6.93" fill="#443a83"/>
<rect x="668.39" y="220.04" width="6.62" height="6.93" fill="#472e7c"/>
<rect x="668.39" y="226.92" width="6.62" height="6.93" fill="#481467"/>
<rect x="668.39" y="233.80" width="6.62" height="6.93" fill="#472e7c"/>
<rect x="668.39" y="240.68" width="6.62" height="6.93" fill="#481467"/>
<rect x="668.39" y="247.56" width="6.62" height="6.93" fill="#440154"/>
<rect x="668.39" y="281.96" width="6.62" height="6.93" fill="#440154"/>
<rect x="674.96" y="178.76" width="6.62" height="6.93" fill="#440154"/>
<rect x="674.96" y="185.64" width="6.62" height="6.93" fill="#3c508b"/>
<rect x="674.96" y="192.52" width="6.62" height="6.93" fill="#3c508b"/>
<rect x="674.96" y="199.40" width="6.62" height="6.93" fill="#3f4889"/>
<rect x="674.96" y="206.28" width="6.62" height="6.93" fill="#472a7a"/>
<rect x="674.96" y="213.16" width="6.62" height="6.93" fill="#481d6f"/>
<rect x="674.96" y="220.04" width="6.62" height="6.93" fill="#440154"/>
<rect x="674.96" y="226.92" width="6.62" height="6.93" fill="#440154"/>
<rect x="674.96" y="254.44" width="6.62" height="6.93" fill="#440154"/>
<rect x="674.96" y="323.24" width="6.62" height="6.93" fill="#440154"/>
<rect x="681.53" y="165.00" width="6.62" height="6.93" fill="#440154"/>
<rect x="681.53" y="171.88" width="6.62" height="6.93" fill="#453882"/>
<rect x="681.53" y="178.76" width="6.62" height="6.93" fill="#3f4788"/>
<rect x="681.53" y="185.64" width="6.62" height="6.93" fill="#404688"/>
<rect x="681.53" y="192.52" width="6.62" height="6.93" fill="#453581"/>
<rect x="681.53" y="323.24" width="6.62" height="6.93" fill="#440154"/>
<rect x="688.10" y="151.24" width="6.62" height="6.93" fill="#440154"/>
<rect x="688.10" y="165.00" width="6.62" height="6.93" fill="#424186"/>
<rect x="688.10" y="171.88" width="6.62" height="6.93" fill="#424186"/>
<rect x="688.10" y="178.76" width="6.62" height="6.93" fill="#3e4989"/>
<rect x="688.10" y="185.64" width="6.62" height="6.93" fill="#481467"/>
<rect x="694.67" y="158.12" width="6.62" height="6.93" fill="#453882"/>
<rect x="694.67" y="165.00" width="6.62" height="6.93" fill="#3e4989"/>
<rect x="694.67" y="171.88" width="6.62" height="6.93" fill="#46327e"/>
<rect x="694.67" y="254.44" width="6.62" height="6.93" fill="#440154"/>
<rect x="701.24" y="137.48" width="6.62" height="6.93" fill="#440154"/>
<rect x="701.24" y="151.24" width="6.62" height="6.93" fill="#472e7c"/>
<rect x="701.24" y="158.12" width="6.62" height="6.93" fill="#443a83"/>
<rect x="701.24" y="254.44" width="6.62" height="6.93" fill="#440154"/>
<rect x="707.81" y="137.48" width="6.62" height="6.93" fill="#481467"/>
<rect x="707.81" y="151.24" width="6.62" height="6.93" fill="#440154"/>
<rect x="707.81" y="226.92" width="6.62" height="6.93" fill="#440154"/>
<rect x="714.38" y="116.84" width="6.62" height="6.93" fill="#440154"/>
<rect x="714.38" y="123.72" width="6.62" height="6.93" fill="#481467"/>
<rect x="714.38" y="130.60" width="6.62" height="6.93" fill="#481467"/>
<rect x="714.38" y="123.72" width="6.62" height="6.93" fill="#414487"/>
<rect x="707.81" y="130.60" width="6.62" height="6.93" fill="#482475"/>
<rect x="707.81" y="137.48" width="6.62" height="6.93" fill="#481d6f"/>
<rect x="714.38" y="137.48" width="6.62" height="6.93" fill="#482475"/>
</g>
<g clip-path="url(#axclip)" fill="none">
<line x1="164.40" y1="771.56" x2="729.48" y2="-63.16" stroke="#ffffff" stroke-width="3.70" stroke-dasharray="11.65 7.12" stroke-dashoffset="18.58"/>
<line x1="211.49" y1="771.56" x2="776.57" y2="-63.16" stroke="#8a8a8a" stroke-width="3.70" stroke-dasharray="11.65 7.12" stroke-dashoffset="14.83"/>
<line x1="258.58" y1="771.56" x2="823.66" y2="-63.16" stroke="#8a8a8a" stroke-width="3.70" stroke-dasharray="11.65 7.12" stroke-dashoffset="14.83"/>
<line x1="305.67" y1="771.56" x2="870.75" y2="-63.16" stroke="#8a8a8a" stroke-width="3.70" stroke-dasharray="11.65 7.12" stroke-dashoffset="14.83"/>
<line x1="352.76" y1="771.56" x2="917.84" y2="-63.16" stroke="#8a8a8a" stroke-width="3.70" stroke-dasharray="11.65 7.12" stroke-dashoffset="14.83"/>
</g>
<g transform="translate(498.00,258.50) rotate(-55.90)" fill="#ffffff"><text x="0" y="0" font-size="36">M</text><text x="33.1" y="7.2" font-size="30.4" style="font-family:'DejaVu Math TeX Gyre', 'DejaVu Sans', 'Liberation Sans', sans-serif">&#8902;</text><text x="57.6" y="0" font-size="36">/M</text><text x="99" y="6" font-size="25">tot</text><text transform="translate(130.9,0) scale(1.33,1)" font-size="36">=</text><text x="162" y="0" font-size="36">10</text><text transform="translate(198,-13) scale(1.25,1)" font-size="25">&#8722;</text><text x="213.5" y="-13" font-size="25">4</text></g>
<g transform="translate(684.50,342.70) rotate(-55.90)" fill="#8a8a8a"><text x="0" y="0" font-size="36">M</text><text x="33.1" y="7.2" font-size="30.4" style="font-family:'DejaVu Math TeX Gyre', 'DejaVu Sans', 'Liberation Sans', sans-serif">&#8902;</text><text x="57.6" y="0" font-size="36">/M</text><text x="99" y="6" font-size="25">tot</text><text transform="translate(130.9,0) scale(1.33,1)" font-size="36">=</text><text x="162" y="0" font-size="36">1</text></g>
<g fill="#ffffff" font-size="65.4">
<text x="193.5" y="83.4">z</text>
<text transform="translate(221.0,89.2) scale(1.297,1.106)" x="0" y="0" font-weight="bold">=</text>
<text x="266.4" y="83.4">0</text><text x="300.8" y="83.4">.</text><text x="318.2" y="83.4">0</text>
</g>
<path d="M258.20,318.00 L271.80,290.60 L262.90,290.60 L262.90,160.00 L253.50,160.00 L253.50,290.60 L244.60,290.60 Z" fill="#ff0000" stroke="#ffffff" stroke-width="2" stroke-linejoin="miter" stroke-miterlimit="10"/>
<path d="M375.80,318.00 L389.40,290.60 L380.50,290.60 L380.50,222.00 L371.10,222.00 L371.10,290.60 L362.20,290.60 Z" fill="#0000ff" stroke="#ffffff" stroke-width="2" stroke-linejoin="miter" stroke-miterlimit="10"/>
<path d="M550.40,508.40 L557.09,538.25 L564.01,532.64 L601.24,578.57 L608.55,572.65 L571.31,526.72 L578.22,521.12 Z" fill="#000000" stroke="#ffffff" stroke-width="2" stroke-linejoin="miter" stroke-miterlimit="10"/>
<rect x="188.80" y="123.20" width="138.00" height="43.70" fill="#ffffff" stroke="#000000" stroke-width="2"/>
<text x="191.60" y="154.20" font-size="42" fill="#ff0000" textLength="131.0" lengthAdjust="spacingAndGlyphs">Starless</text>
<rect x="293.40" y="186.20" width="165.60" height="43.40" fill="#ffffff" stroke="#000000" stroke-width="2"/>
<text x="294.80" y="218.50" font-size="42" fill="#0000ff" textLength="162.0" lengthAdjust="spacingAndGlyphs">Star-poor</text>
<rect x="606.30" y="576.30" width="152.00" height="42.50" fill="#ffffff" stroke="#000000" stroke-width="2"/>
<text x="608.30" y="607.70" font-size="42" fill="#000000" textLength="147.0" lengthAdjust="spacingAndGlyphs">Star-rich</text>
<g stroke="#dddddd" stroke-width="3.7" fill="none">
<line x1="258.58" y1="702.00" x2="258.58" y2="683.00"/>
<line x1="258.58" y1="5.90" x2="258.58" y2="24.90"/>
<line x1="352.76" y1="702.00" x2="352.76" y2="683.00"/>
<line x1="352.76" y1="5.90" x2="352.76" y2="24.90"/>
<line x1="446.94" y1="702.00" x2="446.94" y2="683.00"/>
<line x1="446.94" y1="5.90" x2="446.94" y2="24.90"/>
<line x1="541.12" y1="702.00" x2="541.12" y2="683.00"/>
<line x1="541.12" y1="5.90" x2="541.12" y2="24.90"/>
<line x1="635.30" y1="702.00" x2="635.30" y2="683.00"/>
<line x1="635.30" y1="5.90" x2="635.30" y2="24.90"/>
<line x1="729.48" y1="702.00" x2="729.48" y2="683.00"/>
<line x1="729.48" y1="5.90" x2="729.48" y2="24.90"/>
<line x1="163.80" y1="632.44" x2="182.80" y2="632.44"/>
<line x1="823.70" y1="632.44" x2="804.70" y2="632.44"/>
<line x1="163.80" y1="493.32" x2="182.80" y2="493.32"/>
<line x1="823.70" y1="493.32" x2="804.70" y2="493.32"/>
<line x1="163.80" y1="354.20" x2="182.80" y2="354.20"/>
<line x1="823.70" y1="354.20" x2="804.70" y2="354.20"/>
<line x1="163.80" y1="215.08" x2="182.80" y2="215.08"/>
<line x1="823.70" y1="215.08" x2="804.70" y2="215.08"/>
<line x1="163.80" y1="75.96" x2="182.80" y2="75.96"/>
<line x1="823.70" y1="75.96" x2="804.70" y2="75.96"/>
</g>
<rect x="163.80" y="5.90" width="659.90" height="696.10" fill="none" stroke="#000000" stroke-width="4.00"/>
<g fill="#000000">
<text x="258.88" y="753.1" font-size="52.5" text-anchor="middle">0</text>
<text x="319.26" y="753.1" font-size="52.5" letter-spacing="-2">10</text>
<text x="370.76" y="734.7" font-size="36">4</text>
<text x="413.44" y="753.1" font-size="52.5" letter-spacing="-2">10</text>
<text x="464.94" y="734.7" font-size="36">6</text>
<text x="507.62" y="753.1" font-size="52.5" letter-spacing="-2">10</text>
<text x="559.12" y="734.7" font-size="36">8</text>
<text x="590.70" y="753.1" font-size="52.5" letter-spacing="-2">10</text>
<text x="642.90" y="734.7" font-size="36">10</text>
<text x="684.88" y="753.1" font-size="52.5" letter-spacing="-2">10</text>
<text x="737.08" y="734.7" font-size="36">12</text>
<text x="86.6" y="650.84" font-size="52.5" letter-spacing="-2">10</text>
<text x="156.4" y="632.04" font-size="36" text-anchor="end">6</text>
<text x="86.6" y="511.72" font-size="52.5" letter-spacing="-2">10</text>
<text x="156.4" y="492.92" font-size="36" text-anchor="end">8</text>
<text x="67.8" y="372.60" font-size="52.5" letter-spacing="-2">10</text>
<text x="156.2" y="353.80" font-size="36" text-anchor="end">10</text>
<text x="67.8" y="233.48" font-size="52.5" letter-spacing="-2">10</text>
<text x="156.2" y="214.68" font-size="36" text-anchor="end">12</text>
<text x="67.8" y="94.36" font-size="52.5" letter-spacing="-2">10</text>
<text x="156.2" y="75.56" font-size="36" text-anchor="end">14</text>
</g>
<g fill="#000000">
<text x="353.6" y="818.4" font-size="52.5">M</text>
<text x="402.7" y="827.5" font-size="44.8" style="font-family:'DejaVu Math TeX Gyre', 'DejaVu Sans', 'Liberation Sans', sans-serif">&#8902;</text>
<text x="444.4" y="818.4" font-size="52.5">[h</text>
<text transform="translate(489.6,799.5) scale(1.24,1)" font-size="36.5">&#8722;</text>
<text x="513" y="799.5" font-size="36.5">1</text>
<text x="531.2" y="818.4" font-size="52.5">M</text>
<text x="584.50" y="826.70" font-size="38.1" style="font-family:'DejaVu Math TeX Gyre', 'DejaVu Sans', 'Liberation Sans', sans-serif">&#8857;</text>
<text x="620.2" y="818.4" font-size="52.5">]</text>
</g>
<g fill="#000000" transform="translate(46,497) rotate(-90)">
<text x="0" y="0" font-size="52.5">M</text>
<text x="46.5" y="7" font-size="36.5">tot</text>
<text x="94.3" y="0" font-size="52.5">[h</text>
<text transform="translate(140.6,-20.9) scale(1.24,1)" font-size="36.5">&#8722;</text>
<text x="166.4" y="-20.9" font-size="36.5">1</text>
<text x="184.3" y="0" font-size="52.5">M</text>
<text x="234.90" y="7.00" font-size="38.1" style="font-family:'DejaVu Math TeX Gyre', 'DejaVu Sans', 'Liberation Sans', sans-serif">&#8857;</text>
<text x="269.1" y="0" font-size="52.5">]</text>
</g>
<clipPath id="cbclip"><path d="M865.00,670.40 L882.40,701.80 L899.80,670.40 L899.80,37.65 L882.40,6.25 L865.00,37.65 Z"/></clipPath>
<g clip-path="url(#cbclip)">
<rect x="863.00" y="1.25" width="38.80" height="37.40" fill="#fde725"/>
<rect x="863.00" y="669.40" width="38.80" height="37.40" fill="#440154"/>
<rect x="863.00" y="37.65" width="38.80" height="632.75" fill="url(#vir)"/>
</g>
<g stroke="#000000" fill="none">
<line x1="899.80" y1="670.40" x2="885.90" y2="670.40" stroke-width="3.6"/>
<line x1="899.80" y1="638.24" x2="890.20" y2="638.24" stroke-width="2.1"/>
<line x1="899.80" y1="619.42" x2="890.20" y2="619.42" stroke-width="2.1"/>
<line x1="899.80" y1="606.08" x2="890.20" y2="606.08" stroke-width="2.1"/>
<line x1="899.80" y1="595.72" x2="890.20" y2="595.72" stroke-width="2.1"/>
<line x1="899.80" y1="587.26" x2="890.20" y2="587.26" stroke-width="2.1"/>
<line x1="899.80" y1="580.11" x2="890.20" y2="580.11" stroke-width="2.1"/>
<line x1="899.80" y1="573.91" x2="890.20" y2="573.91" stroke-width="2.1"/>
<line x1="899.80" y1="568.45" x2="890.20" y2="568.45" stroke-width="2.1"/>
<line x1="899.80" y1="563.56" x2="885.90" y2="563.56" stroke-width="3.6"/>
<line x1="899.80" y1="531.40" x2="890.20" y2="531.40" stroke-width="2.1"/>
<line x1="899.80" y1="512.58" x2="890.20" y2="512.58" stroke-width="2.1"/>
<line x1="899.80" y1="499.24" x2="890.20" y2="499.24" stroke-width="2.1"/>
<line x1="899.80" y1="488.88" x2="890.20" y2="488.88" stroke-width="2.1"/>
<line x1="899.80" y1="480.42" x2="890.20" y2="480.42" stroke-width="2.1"/>
<line x1="899.80" y1="473.27" x2="890.20" y2="473.27" stroke-width="2.1"/>
<line x1="899.80" y1="467.07" x2="890.20" y2="467.07" stroke-width="2.1"/>
<line x1="899.80" y1="461.61" x2="890.20" y2="461.61" stroke-width="2.1"/>
<line x1="899.80" y1="456.72" x2="885.90" y2="456.72" stroke-width="3.6"/>
<line x1="899.80" y1="424.56" x2="890.20" y2="424.56" stroke-width="2.1"/>
<line x1="899.80" y1="405.74" x2="890.20" y2="405.74" stroke-width="2.1"/>
<line x1="899.80" y1="392.40" x2="890.20" y2="392.40" stroke-width="2.1"/>
<line x1="899.80" y1="382.04" x2="890.20" y2="382.04" stroke-width="2.1"/>
<line x1="899.80" y1="373.58" x2="890.20" y2="373.58" stroke-width="2.1"/>
<line x1="899.80" y1="366.43" x2="890.20" y2="366.43" stroke-width="2.1"/>
<line x1="899.80" y1="360.23" x2="890.20" y2="360.23" stroke-width="2.1"/>
<line x1="899.80" y1="354.77" x2="890.20" y2="354.77" stroke-width="2.1"/>
<line x1="899.80" y1="349.88" x2="885.90" y2="349.88" stroke-width="3.6"/>
<line x1="899.80" y1="317.72" x2="890.20" y2="317.72" stroke-width="2.1"/>
<line x1="899.80" y1="298.90" x2="890.20" y2="298.90" stroke-width="2.1"/>
<line x1="899.80" y1="285.56" x2="890.20" y2="285.56" stroke-width="2.1"/>
<line x1="899.80" y1="275.20" x2="890.20" y2="275.20" stroke-width="2.1"/>
<line x1="899.80" y1="266.74" x2="890.20" y2="266.74" stroke-width="2.1"/>
<line x1="899.80" y1="259.59" x2="890.20" y2="259.59" stroke-width="2.1"/>
<line x1="899.80" y1="253.39" x2="890.20" y2="253.39" stroke-width="2.1"/>
<line x1="899.80" y1="247.93" x2="890.20" y2="247.93" stroke-width="2.1"/>
<line x1="899.80" y1="243.04" x2="885.90" y2="243.04" stroke-width="3.6"/>
<line x1="899.80" y1="210.88" x2="890.20" y2="210.88" stroke-width="2.1"/>
<line x1="899.80" y1="192.06" x2="890.20" y2="192.06" stroke-width="2.1"/>
<line x1="899.80" y1="178.72" x2="890.20" y2="178.72" stroke-width="2.1"/>
<line x1="899.80" y1="168.36" x2="890.20" y2="168.36" stroke-width="2.1"/>
<line x1="899.80" y1="159.90" x2="890.20" y2="159.90" stroke-width="2.1"/>
<line x1="899.80" y1="152.75" x2="890.20" y2="152.75" stroke-width="2.1"/>
<line x1="899.80" y1="146.55" x2="890.20" y2="146.55" stroke-width="2.1"/>
<line x1="899.80" y1="141.09" x2="890.20" y2="141.09" stroke-width="2.1"/>
<line x1="899.80" y1="136.20" x2="885.90" y2="136.20" stroke-width="3.6"/>
<line x1="899.80" y1="104.04" x2="890.20" y2="104.04" stroke-width="2.1"/>
<line x1="899.80" y1="85.22" x2="890.20" y2="85.22" stroke-width="2.1"/>
<line x1="899.80" y1="71.88" x2="890.20" y2="71.88" stroke-width="2.1"/>
<line x1="899.80" y1="61.52" x2="890.20" y2="61.52" stroke-width="2.1"/>
<line x1="899.80" y1="53.06" x2="890.20" y2="53.06" stroke-width="2.1"/>
<line x1="899.80" y1="45.91" x2="890.20" y2="45.91" stroke-width="2.1"/>
<line x1="899.80" y1="39.71" x2="890.20" y2="39.71" stroke-width="2.1"/>
</g>
<path d="M865.00,670.40 L882.40,701.80 L899.80,670.40 L899.80,37.65 L882.40,6.25 L865.00,37.65 Z" fill="none" stroke="#000000" stroke-width="4.20" stroke-linejoin="miter" stroke-miterlimit="10"/>
<g fill="#000000">
<text transform="translate(909.2,682.90) scale(0.92,1)" font-size="37" letter-spacing="-1">10</text>
<text transform="translate(944.0,671.00) scale(0.88,1)" font-size="27.5">0</text>
<text transform="translate(909.2,576.06) scale(0.92,1)" font-size="37" letter-spacing="-1">10</text>
<text transform="translate(944.0,564.16) scale(0.88,1)" font-size="27.5">1</text>
<text transform="translate(909.2,469.22) scale(0.92,1)" font-size="37" letter-spacing="-1">10</text>
<text transform="translate(944.0,457.32) scale(0.88,1)" font-size="27.5">2</text>
<text transform="translate(909.2,362.38) scale(0.92,1)" font-size="37" letter-spacing="-1">10</text>
<text transform="translate(944.0,350.48) scale(0.88,1)" font-size="27.5">3</text>
<text transform="translate(909.2,255.54) scale(0.92,1)" font-size="37" letter-spacing="-1">10</text>
<text transform="translate(944.0,243.64) scale(0.88,1)" font-size="27.5">4</text>
<text transform="translate(909.2,148.70) scale(0.92,1)" font-size="37" letter-spacing="-1">10</text>
<text transform="translate(944.0,136.80) scale(0.88,1)" font-size="27.5">5</text>
</g>
<text transform="translate(999.6,485.5) rotate(-90)" x="0" y="0" font-size="51.5" fill="#000000"># of galaxies</text>
</svg></body></html>
